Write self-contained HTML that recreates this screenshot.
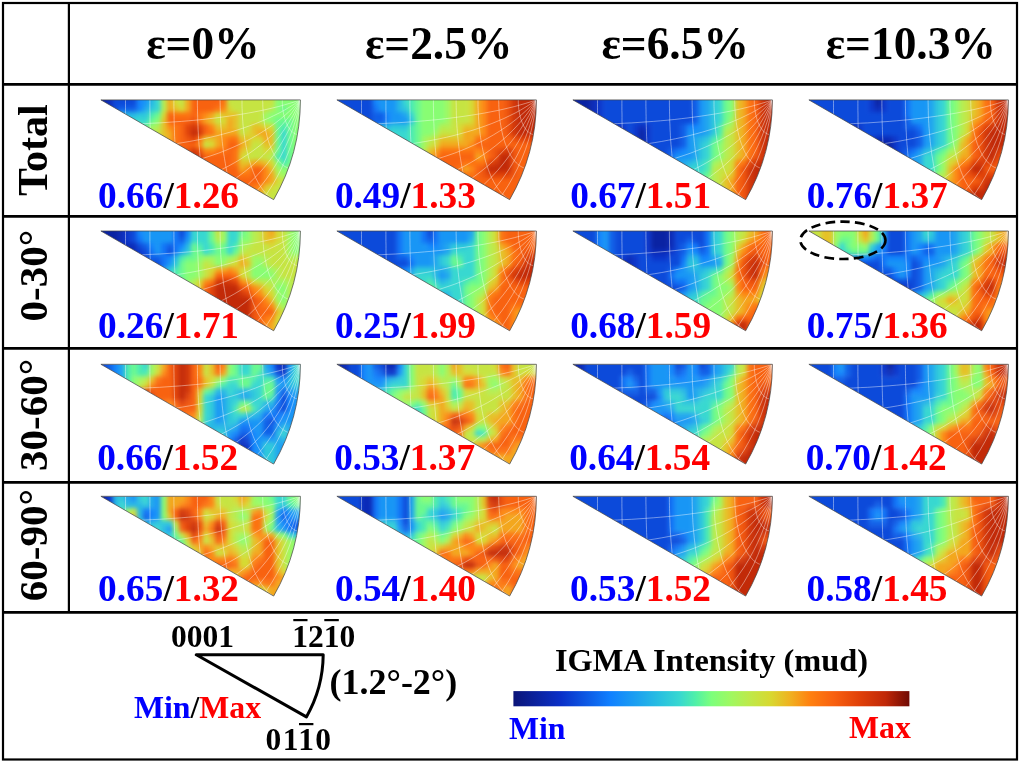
<!DOCTYPE html><html><head><meta charset="utf-8"><title>IGMA</title><style>html,body{margin:0;padding:0;background:#fff;}svg{display:block}text{font-family:"Liberation Serif","Times New Roman",serif;font-weight:bold}</style></head><body>
<svg width="1020" height="763" viewBox="0 0 1020 763">
<defs><filter id="bl" x="-10%" y="-10%" width="120%" height="120%" color-interpolation-filters="sRGB"><feGaussianBlur stdDeviation="2.2"/></filter>
<clipPath id="sec"><path d="M0.00 0.00L199.50 0.00A199.50 199.50 0 0 1 172.77 99.75Z"/></clipPath>
<path id="net" d="M196.5 34.6L196 34.6L195.6 34.4L195.1 34.3L194.7 34.1L194.3 34.0L193.9 33.8L193.4 33.5L193 33.3L192.6 33.0L192.2 32.7L191.8 32.4L191.4 32.1L191 31.7L190.6 31.4L190.2 31.0L189.9 30.6L189.5 30.2L189.2 29.7L188.8 29.3L188.5 28.8L188.1 28.3L187.8 27.8L187.5 27.2L187.2 26.7L186.8 26.1L186.5 25.6L186.2 25.0L186 24.4L185.7 23.7L185.4 23.1L185.2 22.5L184.9 21.8L184.7 21.1L184.4 20.5L184.2 19.8L184 19.1L183.8 18.4L183.6 17.6L183.4 16.9L183.2 16.1L183 15.4L182.8 14.6L182.7 13.9L182.5 13.1L182.4 12.3L182.3 11.5L182.1 10.7L182 9.9L181.9 9.1L181.8 8.3L181.7 7.5L181.6 6.7L181.6 5.8L181.5 5.0L181.5 4.2L181.4 3.3L181.4 2.5L181.4 1.7L181.4 0.8L181.4 0.0M187.5 68.2L186.6 67.9L185.8 67.5L185 67.1L184.2 66.7L183.4 66.2L182.6 65.7L181.9 65.1L181.1 64.5L180.4 63.8L179.7 63.2L179 62.5L178.3 61.7L177.6 60.9L176.9 60.1L176.3 59.3L175.6 58.4L175 57.5L174.4 56.6L173.8 55.6L173.2 54.6L172.7 53.6L172.1 52.5L171.6 51.5L171.1 50.4L170.6 49.2L170.1 48.1L169.6 46.9L169.1 45.7L168.7 44.5L168.2 43.3L167.8 42.0L167.4 40.8L167 39.5L166.6 38.2L166.3 36.8L165.9 35.5L165.6 34.1L165.3 32.8L165 31.4L164.7 30.0L164.4 28.5L164.1 27.1L163.9 25.7L163.6 24.2L163.4 22.8L163.2 21.3L163 19.8L162.8 18.3L162.7 16.8L162.5 15.3L162.4 13.8L162.3 12.3L162.2 10.8L162.1 9.2L162 7.7L161.9 6.2L161.9 4.6L161.9 3.1L161.8 1.5L161.8 0.0M172.8 99.7L171.7 99.1L170.6 98.3L169.5 97.5L168.4 96.7L167.4 95.8L166.4 94.9L165.4 93.9L164.4 92.9L163.5 91.8L162.6 90.7L161.7 89.5L160.8 88.3L159.9 87.0L159.1 85.8L158.3 84.4L157.5 83.1L156.7 81.7L156 80.2L155.2 78.8L154.5 77.3L153.8 75.7L153.2 74.2L152.5 72.6L151.9 70.9L151.3 69.3L150.7 67.6L150.1 65.9L149.6 64.2L149 62.4L148.5 60.6L148 58.8L147.5 57.0L147.1 55.1L146.6 53.3L146.2 51.4L145.8 49.5L145.4 47.5L145 45.6L144.7 43.6L144.3 41.7L144 39.7L143.7 37.7L143.4 35.6L143.1 33.6L142.9 31.6L142.7 29.5L142.4 27.5L142.2 25.4L142 23.3L141.9 21.2L141.7 19.1L141.6 17.0L141.5 14.9L141.4 12.8L141.3 10.6L141.2 8.5L141.1 6.4L141.1 4.3L141.1 2.1L141.1 0.0M152.8 128.2L151.6 127.1L150.3 126.0L149.1 124.7L147.9 123.5L146.8 122.1L145.7 120.7L144.6 119.3L143.5 117.8L142.5 116.3L141.5 114.7L140.5 113.1L139.6 111.4L138.7 109.7L137.8 107.9L136.9 106.1L136.1 104.3L135.3 102.4L134.5 100.5L133.7 98.6L132.9 96.6L132.2 94.6L131.5 92.6L130.9 90.5L130.2 88.4L129.6 86.3L129 84.1L128.4 81.9L127.8 79.7L127.2 77.4L126.7 75.2L126.2 72.9L125.7 70.6L125.3 68.3L124.8 65.9L124.4 63.5L124 61.1L123.6 58.7L123.2 56.3L122.8 53.9L122.5 51.4L122.2 48.9L121.9 46.4L121.6 43.9L121.3 41.4L121.1 38.9L120.8 36.3L120.6 33.8L120.4 31.2L120.2 28.6L120 26.1L119.9 23.5L119.7 20.9L119.6 18.3L119.5 15.7L119.4 13.1L119.4 10.5L119.3 7.9L119.3 5.2L119.2 2.6L119.2 0.0M128.2 152.8L127 151.3L125.7 149.6L124.5 148.0L123.4 146.2L122.3 144.5L121.2 142.6L120.1 140.8L119.1 138.8L118.1 136.9L117.1 134.9L116.2 132.8L115.3 130.7L114.4 128.6L113.6 126.4L112.8 124.2L112 121.9L111.2 119.6L110.5 117.3L109.7 114.9L109 112.5L108.4 110.1L107.7 107.7L107.1 105.2L106.5 102.7L105.9 100.1L105.3 97.6L104.8 95.0L104.3 92.3L103.8 89.7L103.3 87.0L102.8 84.3L102.4 81.6L101.9 78.9L101.5 76.1L101.1 73.4L100.8 70.6L100.4 67.8L100.1 64.9L99.7 62.1L99.4 59.2L99.1 56.4L98.9 53.5L98.6 50.6L98.4 47.7L98.1 44.8L97.9 41.8L97.7 38.9L97.5 35.9L97.4 33.0L97.2 30.0L97.1 27.0L97 24.0L96.8 21.0L96.8 18.0L96.7 15.0L96.6 12.0L96.6 9.0L96.5 6.0L96.5 3.0L96.5 0.0M99.8 172.8L98.6 170.8L97.6 168.8L96.5 166.7L95.5 164.5L94.5 162.4L93.6 160.1L92.7 157.9L91.8 155.6L91 153.2L90.2 150.8L89.4 148.4L88.6 145.9L87.9 143.4L87.1 140.9L86.4 138.3L85.8 135.7L85.1 133.1L84.5 130.4L83.9 127.7L83.3 125.0L82.8 122.2L82.2 119.4L81.7 116.6L81.2 113.8L80.7 110.9L80.3 108.0L79.8 105.1L79.4 102.2L79 99.2L78.6 96.2L78.2 93.2L77.8 90.2L77.5 87.1L77.1 84.1L76.8 81.0L76.5 77.9L76.2 74.8L75.9 71.6L75.7 68.5L75.4 65.3L75.2 62.1L74.9 58.9L74.7 55.7L74.5 52.5L74.3 49.3L74.2 46.0L74 42.8L73.9 39.5L73.7 36.3L73.6 33.0L73.5 29.7L73.4 26.4L73.3 23.1L73.2 19.8L73.2 16.5L73.1 13.2L73.1 9.9L73 6.6L73 3.3L73 0.0M68.2 187.5L67.4 185.1L66.6 182.8L65.8 180.4L65.1 177.9L64.4 175.4L63.7 172.9L63 170.3L62.4 167.7L61.8 165.1L61.2 162.4L60.6 159.7L60.1 157.0L59.5 154.2L59 151.4L58.5 148.5L58 145.7L57.6 142.8L57.1 139.8L56.7 136.9L56.3 133.9L55.9 130.9L55.5 127.9L55.1 124.8L54.8 121.7L54.4 118.6L54.1 115.5L53.8 112.3L53.5 109.2L53.2 106.0L52.9 102.7L52.6 99.5L52.4 96.3L52.1 93.0L51.9 89.7L51.6 86.4L51.4 83.1L51.2 79.7L51 76.4L50.8 73.0L50.7 69.6L50.5 66.2L50.3 62.8L50.2 59.4L50.1 55.9L49.9 52.5L49.8 49.0L49.7 45.6L49.6 42.1L49.5 38.6L49.4 35.1L49.3 31.6L49.3 28.1L49.2 24.6L49.1 21.1L49.1 17.6L49.1 14.1L49 10.6L49 7.0L49 3.5L49 0.0M34.6 196.5L34.2 193.9L33.8 191.3L33.4 188.7L33 186.1L32.6 183.4L32.2 180.6L31.9 177.9L31.6 175.1L31.2 172.3L30.9 169.4L30.6 166.5L30.3 163.6L30.1 160.7L29.8 157.7L29.5 154.7L29.3 151.7L29 148.6L28.8 145.5L28.6 142.4L28.4 139.3L28.1 136.1L27.9 132.9L27.8 129.7L27.6 126.5L27.4 123.2L27.2 120.0L27.1 116.7L26.9 113.4L26.7 110.0L26.6 106.7L26.5 103.3L26.3 99.9L26.2 96.5L26.1 93.1L26 89.6L25.8 86.2L25.7 82.7L25.6 79.2L25.5 75.7L25.5 72.2L25.4 68.6L25.3 65.1L25.2 61.5L25.1 58.0L25.1 54.4L25 50.8L24.9 47.2L24.9 43.6L24.8 40.0L24.8 36.4L24.8 32.8L24.7 29.2L24.7 25.5L24.7 21.9L24.6 18.2L24.6 14.6L24.6 10.9L24.6 7.3L24.6 3.7L24.6 0.0M199.5 0.0L198.3 10.2L196.6 20.4L194.4 30.3L191.7 40.1L188.5 49.7L184.8 59.1L180.7 68.3L176.1 77.2L171.1 85.9L165.7 94.2L159.9 102.3L153.7 110.0L147.2 117.4L140.3 124.4L133.1 131.1L125.6 137.4L117.8 143.3L109.8 148.8L101.5 153.9L93 158.6L84.3 162.9L75.4 166.7L66.3 170.1L57.1 173.1L47.8 175.6L38.3 177.7L28.8 179.3L19.3 180.4L9.6 181.1L0 181.4L-9.6 181.1L-19.3 180.4L-28.8 179.3L-38.3 177.7L-47.8 175.6L-57.1 173.1L-66.3 170.1L-75.4 166.7L-84.3 162.9L-93 158.6L-101.5 153.9L-109.8 148.8L-117.8 143.3L-125.6 137.4L-133.1 131.1L-140.3 124.4L-147.2 117.4L-153.7 110.0L-159.9 102.3L-165.7 94.2L-171.1 85.9L-176.1 77.2L-180.7 68.3L-184.8 59.1L-188.5 49.7L-191.7 40.1L-194.4 30.3L-196.6 20.4L-198.3 10.2L-199.5 0.0M199.5 0.0L197.5 9.7L195 19.3L192 28.6L188.6 37.7L184.7 46.5L180.4 55.1L175.8 63.4L170.8 71.4L165.4 79.2L159.7 86.6L153.6 93.7L147.3 100.5L140.6 107.0L133.7 113.2L126.6 119.0L119.2 124.4L111.6 129.5L103.8 134.2L95.8 138.6L87.6 142.6L79.3 146.2L70.8 149.5L62.2 152.4L53.6 154.9L44.8 157.0L35.9 158.7L27 160.1L18 161.1L9 161.6L0 161.8L-9 161.6L-18 161.1L-27 160.1L-35.9 158.7L-44.8 157.0L-53.6 154.9L-62.2 152.4L-70.8 149.5L-79.3 146.2L-87.6 142.6L-95.8 138.6L-103.8 134.2L-111.6 129.5L-119.2 124.4L-126.6 119.0L-133.7 113.2L-140.6 107.0L-147.3 100.5L-153.6 93.7L-159.7 86.6L-165.4 79.2L-170.8 71.4L-175.8 63.4L-180.4 55.1L-184.7 46.5L-188.6 37.7L-192 28.6L-195 19.3L-197.5 9.7L-199.5 0.0M199.5 0.0L196.7 8.9L193.4 17.6L189.8 26.0L185.7 34.2L181.3 42.1L176.6 49.7L171.5 57.0L166.1 64.1L160.5 70.8L154.5 77.3L148.3 83.4L141.9 89.3L135.2 94.8L128.3 100.1L121.3 105.0L114 109.6L106.5 113.9L98.9 117.9L91.2 121.6L83.3 125.0L75.3 128.0L67.2 130.8L59 133.2L50.8 135.3L42.4 137.0L34 138.5L25.5 139.6L17 140.4L8.5 140.9L0 141.1L-8.5 140.9L-17 140.4L-25.5 139.6L-34 138.5L-42.4 137.0L-50.8 135.3L-59 133.2L-67.2 130.8L-75.3 128.0L-83.3 125.0L-91.2 121.6L-98.9 117.9L-106.5 113.9L-114 109.6L-121.3 105.0L-128.3 100.1L-135.2 94.8L-141.9 89.3L-148.3 83.4L-154.5 77.3L-160.5 70.8L-166.1 64.1L-171.5 57.0L-176.6 49.7L-181.3 42.1L-185.7 34.2L-189.8 26.0L-193.4 17.6L-196.7 8.9L-199.5 0.0M199.5 0.0L196 7.9L192.1 15.5L187.8 22.8L183.3 29.8L178.4 36.6L173.3 43.1L167.9 49.4L162.3 55.3L156.4 61.0L150.3 66.5L144 71.6L137.5 76.5L130.8 81.2L124 85.5L117 89.6L109.8 93.4L102.5 97.0L95.1 100.3L87.6 103.3L79.9 106.1L72.2 108.6L64.4 110.8L56.5 112.8L48.6 114.5L40.6 115.9L32.5 117.1L24.4 118.1L16.3 118.7L8.1 119.1L0 119.2L-8.1 119.1L-16.3 118.7L-24.4 118.1L-32.5 117.1L-40.6 115.9L-48.6 114.5L-56.5 112.8L-64.4 110.8L-72.2 108.6L-79.9 106.1L-87.6 103.3L-95.1 100.3L-102.5 97.0L-109.8 93.4L-117 89.6L-124 85.5L-130.8 81.2L-137.5 76.5L-144 71.6L-150.3 66.5L-156.4 61.0L-162.3 55.3L-167.9 49.4L-173.3 43.1L-178.4 36.6L-183.3 29.8L-187.8 22.8L-192.1 15.5L-196 7.9L-199.5 0.0M199.5 0.0L195.3 6.6L190.9 12.9L186.2 19.0L181.2 24.8L176 30.3L170.6 35.6L165 40.7L159.1 45.5L153.1 50.1L146.9 54.5L140.5 58.7L134 62.6L127.4 66.3L120.5 69.8L113.6 73.0L106.6 76.1L99.4 78.9L92.1 81.5L84.8 83.9L77.3 86.1L69.8 88.1L62.2 89.9L54.6 91.4L46.9 92.8L39.1 93.9L31.4 94.8L23.5 95.6L15.7 96.1L7.9 96.4L0 96.5L-7.9 96.4L-15.7 96.1L-23.5 95.6L-31.4 94.8L-39.1 93.9L-46.9 92.8L-54.6 91.4L-62.2 89.9L-69.8 88.1L-77.3 86.1L-84.8 83.9L-92.1 81.5L-99.4 78.9L-106.6 76.1L-113.6 73.0L-120.5 69.8L-127.4 66.3L-134 62.6L-140.5 58.7L-146.9 54.5L-153.1 50.1L-159.1 45.5L-165 40.7L-170.6 35.6L-176 30.3L-181.2 24.8L-186.2 19.0L-190.9 12.9L-195.3 6.6L-199.5 0.0M199.5 0.0L194.9 5.1L190 10.0L184.9 14.6L179.6 19.1L174.2 23.3L168.5 27.4L162.7 31.2L156.7 34.9L150.6 38.4L144.3 41.7L137.9 44.8L131.4 47.7L124.7 50.5L118 53.1L111.1 55.5L104.1 57.8L97.1 59.9L89.9 61.9L82.7 63.7L75.4 65.3L68 66.8L60.6 68.1L53.2 69.2L45.7 70.3L38.1 71.1L30.5 71.8L22.9 72.3L15.3 72.7L7.6 72.9L0 73.0L-7.6 72.9L-15.3 72.7L-22.9 72.3L-30.5 71.8L-38.1 71.1L-45.7 70.3L-53.2 69.2L-60.6 68.1L-68 66.8L-75.4 65.3L-82.7 63.7L-89.9 61.9L-97.1 59.9L-104.1 57.8L-111.1 55.5L-118 53.1L-124.7 50.5L-131.4 47.7L-137.9 44.8L-144.3 41.7L-150.6 38.4L-156.7 34.9L-162.7 31.2L-168.5 27.4L-174.2 23.3L-179.6 19.1L-184.9 14.6L-190 10.0L-194.9 5.1L-199.5 0.0M199.5 0.0L194.5 3.5L189.3 6.8L184 10.0L178.5 13.0L172.8 15.8L167 18.6L161.1 21.1L155 23.6L148.8 25.9L142.5 28.1L136.1 30.2L129.5 32.2L122.9 34.0L116.2 35.8L109.3 37.4L102.4 38.9L95.4 40.3L88.4 41.6L81.3 42.8L74.1 43.9L66.8 44.9L59.5 45.7L52.2 46.5L44.8 47.2L37.4 47.7L29.9 48.2L22.5 48.5L15 48.8L7.5 48.9L0 49.0L-7.5 48.9L-15 48.8L-22.5 48.5L-29.9 48.2L-37.4 47.7L-44.8 47.2L-52.2 46.5L-59.5 45.7L-66.8 44.9L-74.1 43.9L-81.3 42.8L-88.4 41.6L-95.4 40.3L-102.4 38.9L-109.3 37.4L-116.2 35.8L-122.9 34.0L-129.5 32.2L-136.1 30.2L-142.5 28.1L-148.8 25.9L-155 23.6L-161.1 21.1L-167 18.6L-172.8 15.8L-178.5 13.0L-184 10.0L-189.3 6.8L-194.5 3.5L-199.5 0.0M199.5 0.0L194.3 1.8L188.9 3.4L183.4 5.0L177.8 6.6L172 8.0L166.1 9.4L160.1 10.7L154 11.9L147.8 13.1L141.4 14.2L135 15.2L128.4 16.2L121.8 17.1L115.1 18.0L108.3 18.8L101.4 19.6L94.5 20.3L87.5 20.9L80.4 21.5L73.3 22.0L66.1 22.5L58.9 23.0L51.6 23.3L44.3 23.7L37 24.0L29.6 24.2L22.2 24.4L14.8 24.5L7.4 24.6L0 24.6L-7.4 24.6L-14.8 24.5L-22.2 24.4L-29.6 24.2L-37 24.0L-44.3 23.7L-51.6 23.3L-58.9 23.0L-66.1 22.5L-73.3 22.0L-80.4 21.5L-87.5 20.9L-94.5 20.3L-101.4 19.6L-108.3 18.8L-115.1 18.0L-121.8 17.1L-128.4 16.2L-135 15.2L-141.4 14.2L-147.8 13.1L-154 11.9L-160.1 10.7L-166.1 9.4L-172 8.0L-177.8 6.6L-183.4 5.0L-188.9 3.4L-194.3 1.8L-199.5 0.0" fill="none" stroke="#fff" stroke-opacity="0.42" stroke-width="1"/>
<path id="out" d="M0.00 0.00L199.50 0.00A199.50 199.50 0 0 1 172.77 99.75Z" fill="none" stroke="#444" stroke-width="0.9" stroke-opacity="0.8"/>
</defs>
<rect width="1020" height="763" fill="#fff"/>
<g transform="translate(100.9 99.9)"><g clip-path="url(#sec)"><g filter="url(#bl)">
<path fill="#0a23a3" d="M-6 -6h12v6h-12zM-6 0h12v6h-12zM-6 6h12v6h-12z"/>
<path fill="#0a2bb9" d="M6 -6h6v6h-6zM6 0h6v6h-6zM6 6h6v6h-6z"/>
<path fill="#0c4ada" d="M12 -6h24v6h-24zM12 0h24v6h-24zM12 6h6v6h-6z"/>
<path fill="#1286fc" d="M36 -6h6v6h-6zM36 0h6v6h-6zM36 6h6v6h-6z"/>
<path fill="#1896f5" d="M42 -6h6v6h-6zM42 0h6v6h-6zM12 12h6v6h-6z"/>
<path fill="#25b8e4" d="M48 -6h6v6h-6zM48 0h6v6h-6zM18 12h18v6h-18zM12 18h6v6h-6z"/>
<path fill="#38d8d0" d="M54 -6h6v6h-6zM54 0h6v6h-6zM54 6h6v6h-6zM18 18h30v6h-30zM24 24h12v6h-12zM180 30h6v6h-6zM180 36h6v6h-6zM180 42h6v6h-6zM180 48h6v6h-6zM180 54h6v6h-6z"/>
<path fill="#b4ee51" d="M60 -6h6v6h-6zM60 0h6v6h-6zM60 6h6v6h-6zM168 6h6v6h-6zM54 24h6v6h-6zM48 30h6v6h-6zM48 36h6v6h-6zM168 54h6v6h-6zM174 72h6v6h-6z"/>
<path fill="#f3a71d" d="M66 -6h6v6h-6zM84 -6h6v6h-6zM66 0h6v6h-6zM84 0h6v6h-6zM66 6h6v6h-6zM84 6h6v6h-6zM108 12h6v6h-6zM102 18h6v6h-6zM126 18h6v6h-6zM126 24h6v6h-6zM66 30h6v6h-6zM114 30h24v6h-24zM156 30h12v6h-12zM66 36h6v6h-6zM114 36h6v6h-6zM162 36h6v6h-6zM66 42h6v6h-6zM114 42h6v6h-6zM138 42h6v6h-6zM66 48h6v6h-6zM150 60h12v6h-12zM138 66h6v6h-6zM168 72h6v6h-6zM168 78h6v6h-6zM156 90h6v6h-6zM156 96h6v6h-6z"/>
<path fill="#d6da32" d="M72 -6h6v6h-6zM72 0h6v6h-6zM78 6h6v6h-6zM126 6h6v6h-6zM60 12h6v6h-6zM114 12h6v6h-6zM120 18h6v6h-6zM162 24h12v6h-12zM144 30h6v6h-6zM150 36h12v6h-12zM108 42h6v6h-6zM144 48h6v6h-6zM162 48h6v6h-6zM138 54h6v6h-6zM168 60h6v6h-6zM174 78h6v6h-6zM168 84h6v6h-6zM162 90h6v6h-6zM162 96h6v6h-6zM162 102h6v6h-6z"/>
<path fill="#c6e442" d="M78 -6h6v6h-6zM126 -6h48v6h-48zM78 0h6v6h-6zM126 0h48v6h-48zM132 6h36v6h-36zM138 12h24v6h-24zM114 18h6v6h-6zM138 18h24v6h-24zM138 24h12v6h-12zM54 30h6v6h-6zM138 30h6v6h-6zM54 36h6v6h-6zM54 42h6v6h-6zM102 42h6v6h-6zM150 42h12v6h-12zM150 48h12v6h-12zM168 48h6v6h-6zM144 54h24v6h-24zM180 78h12v6h-12zM174 84h18v6h-18zM168 90h18v6h-18zM168 96h18v6h-18zM168 102h12v6h-12z"/>
<path fill="#f86210" d="M90 -6h30v6h-30zM90 0h30v6h-30zM90 6h24v6h-24zM66 12h6v6h-6zM90 12h6v6h-6zM66 18h24v6h-24zM78 24h6v6h-6zM102 24h6v6h-6zM78 30h6v6h-6zM102 30h6v6h-6zM78 36h6v6h-6zM78 42h18v6h-18zM126 42h12v6h-12zM78 48h6v6h-6zM126 48h6v6h-6zM78 54h6v6h-6zM102 54h30v6h-30zM102 60h30v6h-30zM102 66h36v6h-36zM150 66h12v6h-12zM108 72h30v6h-30zM150 72h12v6h-12zM120 78h42v6h-42zM126 84h24v6h-24zM138 90h12v6h-12z"/>
<path fill="#fc7310" d="M120 -6h6v6h-6zM120 0h6v6h-6zM114 6h6v6h-6zM72 12h18v6h-18zM96 12h6v6h-6zM96 18h6v6h-6zM72 24h6v6h-6zM72 30h6v6h-6zM108 30h6v6h-6zM72 36h6v6h-6zM96 36h6v6h-6zM126 36h12v6h-12zM72 42h6v6h-6zM72 48h6v6h-6zM114 48h12v6h-12zM132 48h6v6h-6zM132 54h6v6h-6zM132 60h6v6h-6zM138 72h12v6h-12zM150 84h6v6h-6z"/>
<path fill="#88fd73" d="M174 -6h36v6h-36zM174 0h36v6h-36zM174 6h6v6h-6zM186 6h24v6h-24zM168 12h42v6h-42zM54 18h6v6h-6zM168 18h6v6h-6zM192 18h18v6h-18zM192 24h18v6h-18zM42 30h6v6h-6zM192 30h18v6h-18zM192 36h12v6h-12zM192 42h12v6h-12zM192 48h12v6h-12zM192 54h12v6h-12zM174 60h6v6h-6zM192 60h6v6h-6zM180 66h18v6h-18z"/>
<path fill="#0e5fe8" d="M18 6h18v6h-18z"/>
<path fill="#1fa7ed" d="M42 6h6v6h-6z"/>
<path fill="#2dc8db" d="M48 6h6v6h-6zM36 12h12v6h-12z"/>
<path fill="#e5c227" d="M72 6h6v6h-6zM120 12h18v6h-18zM60 18h6v6h-6zM108 18h6v6h-6zM132 18h6v6h-6zM60 24h6v6h-6zM114 24h12v6h-12zM132 24h6v6h-6zM150 24h12v6h-12zM60 30h6v6h-6zM150 30h6v6h-6zM168 30h6v6h-6zM60 36h6v6h-6zM102 36h12v6h-12zM138 36h12v6h-12zM168 36h6v6h-6zM60 42h6v6h-6zM144 42h6v6h-6zM162 42h12v6h-12zM138 48h6v6h-6zM138 60h12v6h-12zM162 60h6v6h-6zM168 66h6v6h-6zM162 84h6v6h-6z"/>
<path fill="#fd8813" d="M120 6h6v6h-6zM102 12h6v6h-6zM66 24h6v6h-6zM108 24h6v6h-6zM120 36h6v6h-6zM96 42h6v6h-6zM120 42h6v6h-6zM102 48h12v6h-12zM144 66h6v6h-6zM162 66h6v6h-6zM162 72h6v6h-6zM162 78h6v6h-6zM156 84h6v6h-6zM150 90h6v6h-6zM150 96h6v6h-6z"/>
<path fill="#6af98e" d="M180 6h6v6h-6zM54 12h6v6h-6zM48 18h6v6h-6zM174 18h18v6h-18zM42 24h6v6h-6zM174 24h6v6h-6zM186 24h6v6h-6zM36 30h6v6h-6zM174 30h6v6h-6zM186 30h6v6h-6zM174 36h6v6h-6zM186 36h6v6h-6zM174 42h6v6h-6zM186 42h6v6h-6zM174 48h6v6h-6zM186 48h6v6h-6zM186 54h6v6h-6zM186 60h6v6h-6z"/>
<path fill="#0a36cc" d="M6 12h6v6h-6z"/>
<path fill="#4bebb0" d="M48 12h6v6h-6zM36 24h6v6h-6zM180 24h6v6h-6zM174 54h6v6h-6zM180 60h6v6h-6z"/>
<path fill="#9ff861" d="M162 12h6v6h-6zM162 18h6v6h-6zM48 24h6v6h-6zM174 66h6v6h-6zM180 72h18v6h-18z"/>
<path fill="#ed520c" d="M90 18h6v6h-6zM84 36h6v6h-6zM84 48h6v6h-6zM96 48h6v6h-6z"/>
<path fill="#e14208" d="M84 24h6v6h-6zM96 24h6v6h-6zM84 30h6v6h-6zM90 36h6v6h-6zM84 54h6v6h-6z"/>
<path fill="#d23608" d="M90 24h6v6h-6zM96 30h6v6h-6zM90 48h6v6h-6zM96 54h6v6h-6zM96 60h6v6h-6zM96 66h6v6h-6z"/>
<path fill="#c22a08" d="M90 30h6v6h-6zM90 54h6v6h-6zM90 60h6v6h-6z"/>
</g><use href="#net"/></g><use href="#out"/></g>
<g transform="translate(336.9 99.9)"><g clip-path="url(#sec)"><g filter="url(#bl)">
<path fill="#0c4ada" d="M-6 -6h42v6h-42zM-6 0h42v6h-42zM-6 6h42v6h-42zM6 12h30v6h-30zM12 18h24v6h-24zM24 24h12v6h-12z"/>
<path fill="#1286fc" d="M36 -6h6v6h-6zM36 0h6v6h-6zM48 12h6v6h-6zM48 18h6v6h-6z"/>
<path fill="#1896f5" d="M42 -6h18v6h-18zM42 0h18v6h-18zM42 6h18v6h-18zM54 12h12v6h-12zM54 18h18v6h-18zM36 24h6v6h-6z"/>
<path fill="#25b8e4" d="M60 -6h6v6h-6zM60 0h6v6h-6zM60 6h6v6h-6zM42 24h12v6h-12z"/>
<path fill="#38d8d0" d="M66 -6h6v6h-6zM66 0h6v6h-6zM72 12h6v6h-6zM42 30h30v6h-30zM48 36h24v6h-24zM54 42h18v6h-18zM66 48h6v6h-6z"/>
<path fill="#4bebb0" d="M72 -6h6v6h-6zM72 0h6v6h-6zM72 6h6v6h-6zM72 24h6v6h-6zM72 30h6v6h-6zM72 36h6v6h-6zM72 42h6v6h-6zM72 48h6v6h-6z"/>
<path fill="#6af98e" d="M78 -6h6v6h-6zM78 0h6v6h-6zM78 6h6v6h-6zM78 12h6v6h-6zM78 18h6v6h-6zM78 24h6v6h-6zM78 30h6v6h-6zM78 36h6v6h-6zM78 42h6v6h-6zM78 48h6v6h-6z"/>
<path fill="#88fd73" d="M84 -6h24v6h-24zM84 0h24v6h-24zM84 6h24v6h-24zM84 12h24v6h-24zM84 18h24v6h-24zM84 24h18v6h-18zM84 30h12v6h-12zM78 54h6v6h-6z"/>
<path fill="#9ff861" d="M108 -6h6v6h-6zM108 0h6v6h-6zM108 6h6v6h-6zM108 12h6v6h-6zM108 18h6v6h-6zM96 30h6v6h-6zM84 36h6v6h-6zM84 42h6v6h-6z"/>
<path fill="#c6e442" d="M114 -6h18v6h-18zM114 0h18v6h-18zM114 6h18v6h-18zM114 12h18v6h-18zM114 18h18v6h-18zM114 24h6v6h-6zM102 30h18v6h-18zM96 36h6v6h-6zM90 42h6v6h-6z"/>
<path fill="#d6da32" d="M132 -6h6v6h-6zM132 0h6v6h-6zM132 6h6v6h-6zM132 12h6v6h-6zM132 18h6v6h-6zM120 24h6v6h-6zM120 30h6v6h-6zM96 42h6v6h-6z"/>
<path fill="#f3a71d" d="M138 -6h6v6h-6zM138 0h6v6h-6zM138 6h6v6h-6zM138 12h6v6h-6zM138 18h6v6h-6zM138 24h6v6h-6zM126 30h18v6h-18zM126 36h12v6h-12zM102 42h30v6h-30zM96 48h6v6h-6zM90 54h6v6h-6zM138 54h6v6h-6zM90 60h6v6h-6zM126 66h6v6h-6z"/>
<path fill="#fd8813" d="M144 -6h6v6h-6zM144 0h6v6h-6zM144 6h6v6h-6zM144 12h6v6h-6zM144 18h6v6h-6zM144 24h6v6h-6zM144 30h6v6h-6zM132 42h6v6h-6zM138 48h6v6h-6zM96 54h6v6h-6zM144 54h6v6h-6zM96 60h6v6h-6zM96 66h6v6h-6zM132 66h6v6h-6z"/>
<path fill="#f86210" d="M150 -6h18v6h-18zM150 0h18v6h-18zM150 6h18v6h-18zM150 12h18v6h-18zM150 18h18v6h-18zM150 24h18v6h-18zM150 30h18v6h-18zM150 36h24v6h-24zM138 42h66v6h-66zM150 48h6v6h-6zM180 48h24v6h-24zM102 54h36v6h-36zM150 54h6v6h-6zM180 54h24v6h-24zM102 60h24v6h-24zM180 60h18v6h-18zM102 66h18v6h-18zM138 66h6v6h-6zM180 66h18v6h-18zM108 72h18v6h-18zM138 72h6v6h-6zM180 72h18v6h-18zM120 78h72v6h-72zM126 84h66v6h-66zM138 90h48v6h-48zM150 96h36v6h-36zM162 102h18v6h-18z"/>
<path fill="#ed520c" d="M168 -6h6v6h-6zM168 0h6v6h-6zM168 6h6v6h-6zM168 12h6v6h-6zM168 18h6v6h-6zM168 24h6v6h-6zM168 30h6v6h-6zM174 36h6v6h-6zM156 48h6v6h-6zM174 48h6v6h-6zM156 54h6v6h-6zM174 54h6v6h-6zM174 60h6v6h-6zM144 66h6v6h-6zM174 66h6v6h-6zM144 72h6v6h-6zM174 72h6v6h-6z"/>
<path fill="#d23608" d="M174 -6h6v6h-6zM174 0h6v6h-6zM174 6h6v6h-6zM174 12h6v6h-6zM174 18h6v6h-6zM174 24h6v6h-6zM174 30h6v6h-6zM168 48h6v6h-6zM156 60h6v6h-6z"/>
<path fill="#c22a08" d="M180 -6h30v6h-30zM180 0h30v6h-30zM180 6h30v6h-30zM180 12h30v6h-30zM180 18h30v6h-30zM180 24h30v6h-30zM180 30h30v6h-30zM162 54h12v6h-12zM162 60h12v6h-12zM150 66h24v6h-24z"/>
<path fill="#0f74f7" d="M36 6h6v6h-6z"/>
<path fill="#2dc8db" d="M66 6h6v6h-6zM72 18h6v6h-6zM54 24h18v6h-18z"/>
<path fill="#0e5fe8" d="M36 12h12v6h-12zM36 18h12v6h-12z"/>
<path fill="#1fa7ed" d="M66 12h6v6h-6zM36 30h6v6h-6z"/>
<path fill="#b4ee51" d="M102 24h12v6h-12zM90 36h6v6h-6zM84 48h6v6h-6zM84 54h6v6h-6z"/>
<path fill="#e5c227" d="M126 24h12v6h-12zM102 36h24v6h-24zM90 48h6v6h-6z"/>
<path fill="#fc7310" d="M138 36h12v6h-12zM102 48h36v6h-36zM144 48h6v6h-6zM126 60h24v6h-24zM120 66h6v6h-6zM126 72h12v6h-12z"/>
<path fill="#e14208" d="M180 36h24v6h-24zM162 48h6v6h-6zM150 60h6v6h-6zM150 72h24v6h-24z"/>
</g><use href="#net"/></g><use href="#out"/></g>
<g transform="translate(572.9 99.9)"><g clip-path="url(#sec)"><g filter="url(#bl)">
<path fill="#0a23a3" d="M-6 -6h24v6h-24zM-6 0h24v6h-24zM-6 6h24v6h-24zM6 12h12v6h-12zM66 30h6v6h-6zM66 36h6v6h-6zM66 42h6v6h-6zM66 48h6v6h-6z"/>
<path fill="#0a2bb9" d="M18 -6h6v6h-6zM18 0h6v6h-6zM18 6h6v6h-6zM18 12h6v6h-6zM12 18h12v6h-12zM42 24h6v6h-6zM66 24h6v6h-6zM36 30h12v6h-12z"/>
<path fill="#0a36cc" d="M24 -6h6v6h-6zM24 0h6v6h-6zM24 6h6v6h-6zM24 12h6v6h-6zM24 18h6v6h-6zM36 24h6v6h-6zM48 24h6v6h-6zM60 24h6v6h-6zM72 24h6v6h-6zM48 30h6v6h-6zM60 30h6v6h-6zM72 30h6v6h-6zM48 36h6v6h-6zM60 36h6v6h-6zM72 36h6v6h-6zM60 42h6v6h-6zM72 42h6v6h-6zM72 48h6v6h-6z"/>
<path fill="#0c4ada" d="M30 -6h90v6h-90zM30 0h90v6h-90zM30 6h90v6h-90zM30 12h90v6h-90zM30 18h90v6h-90zM24 24h12v6h-12zM54 24h6v6h-6zM78 24h30v6h-30zM54 30h6v6h-6zM78 30h30v6h-30zM54 36h6v6h-6zM78 36h30v6h-30zM54 42h6v6h-6zM78 42h30v6h-30zM78 48h18v6h-18zM78 54h18v6h-18zM90 60h6v6h-6z"/>
<path fill="#0e5fe8" d="M120 -6h6v6h-6zM120 0h6v6h-6zM120 6h6v6h-6zM120 12h6v6h-6zM120 18h6v6h-6zM108 24h6v6h-6zM108 30h6v6h-6zM108 36h6v6h-6zM108 42h6v6h-6zM96 48h6v6h-6z"/>
<path fill="#1896f5" d="M126 -6h6v6h-6zM126 0h6v6h-6zM126 6h6v6h-6zM126 12h6v6h-6zM126 18h6v6h-6zM126 24h6v6h-6zM114 30h18v6h-18zM114 36h6v6h-6zM114 42h6v6h-6zM114 48h6v6h-6zM102 54h18v6h-18zM102 60h6v6h-6zM102 66h6v6h-6z"/>
<path fill="#1fa7ed" d="M132 -6h6v6h-6zM132 0h6v6h-6zM132 6h6v6h-6zM132 12h6v6h-6zM132 18h6v6h-6zM132 24h6v6h-6zM132 30h6v6h-6zM120 36h6v6h-6zM120 42h6v6h-6zM120 48h6v6h-6zM120 54h6v6h-6zM108 60h6v6h-6zM108 66h6v6h-6zM108 72h6v6h-6z"/>
<path fill="#2dc8db" d="M138 -6h6v6h-6zM138 0h6v6h-6zM138 6h6v6h-6zM138 12h6v6h-6zM138 18h6v6h-6zM138 24h6v6h-6zM138 30h6v6h-6zM132 36h6v6h-6zM126 42h6v6h-6zM126 48h6v6h-6zM126 54h6v6h-6zM120 60h6v6h-6z"/>
<path fill="#38d8d0" d="M144 -6h6v6h-6zM144 0h6v6h-6zM144 6h6v6h-6zM144 12h6v6h-6zM144 18h6v6h-6zM132 42h6v6h-6zM132 48h6v6h-6zM132 54h6v6h-6zM126 60h6v6h-6zM114 66h18v6h-18zM114 72h12v6h-12zM120 78h6v6h-6z"/>
<path fill="#6af98e" d="M150 -6h6v6h-6zM150 0h6v6h-6zM150 6h6v6h-6zM150 12h6v6h-6zM150 18h6v6h-6zM144 36h6v6h-6zM138 42h6v6h-6zM138 48h6v6h-6zM138 54h6v6h-6zM132 72h6v6h-6zM126 78h6v6h-6zM126 84h6v6h-6z"/>
<path fill="#88fd73" d="M156 -6h6v6h-6zM156 0h6v6h-6zM156 6h6v6h-6zM156 12h6v6h-6zM144 42h6v6h-6zM144 48h6v6h-6zM144 54h6v6h-6zM132 78h6v6h-6zM132 84h6v6h-6z"/>
<path fill="#e5c227" d="M162 -6h6v6h-6zM162 0h6v6h-6zM162 6h6v6h-6zM162 12h6v6h-6zM162 18h6v6h-6zM162 24h6v6h-6zM162 30h6v6h-6zM162 36h6v6h-6zM162 42h6v6h-6zM162 48h6v6h-6zM162 54h6v6h-6zM156 72h6v6h-6zM150 78h6v6h-6zM150 84h6v6h-6zM150 90h6v6h-6zM150 96h6v6h-6z"/>
<path fill="#f3a71d" d="M168 -6h6v6h-6zM168 0h6v6h-6zM168 6h6v6h-6zM168 12h6v6h-6zM168 18h6v6h-6zM168 24h6v6h-6zM168 30h6v6h-6zM168 36h6v6h-6zM168 42h6v6h-6zM168 48h6v6h-6zM168 54h6v6h-6zM156 78h6v6h-6zM156 84h6v6h-6zM156 90h6v6h-6zM156 96h6v6h-6z"/>
<path fill="#fc7310" d="M174 -6h6v6h-6zM174 0h6v6h-6zM174 6h6v6h-6zM174 12h6v6h-6zM174 18h6v6h-6zM174 24h6v6h-6zM174 30h6v6h-6zM174 36h6v6h-6zM174 42h6v6h-6zM174 48h6v6h-6zM174 54h6v6h-6zM168 60h6v6h-6zM162 66h6v6h-6zM162 72h6v6h-6z"/>
<path fill="#f86210" d="M180 -6h6v6h-6zM180 0h6v6h-6zM180 6h6v6h-6zM180 12h6v6h-6zM180 18h6v6h-6zM180 24h6v6h-6zM180 30h6v6h-6zM180 36h6v6h-6zM180 42h6v6h-6zM180 48h6v6h-6zM162 78h6v6h-6zM162 84h6v6h-6zM162 90h6v6h-6zM162 96h6v6h-6zM162 102h6v6h-6z"/>
<path fill="#d23608" d="M186 -6h6v6h-6zM186 0h6v6h-6zM186 6h6v6h-6zM186 12h6v6h-6zM186 18h6v6h-6zM186 24h6v6h-6zM186 30h6v6h-6zM186 36h6v6h-6zM186 42h6v6h-6zM186 48h6v6h-6zM186 54h6v6h-6zM180 60h6v6h-6zM174 66h6v6h-6zM174 72h6v6h-6zM174 78h6v6h-6zM174 84h6v6h-6zM174 90h6v6h-6zM174 96h6v6h-6zM174 102h6v6h-6z"/>
<path fill="#c22a08" d="M192 -6h18v6h-18zM192 0h18v6h-18zM192 6h18v6h-18zM192 12h18v6h-18zM192 18h18v6h-18zM192 24h18v6h-18zM192 30h18v6h-18zM192 36h12v6h-12zM192 42h12v6h-12zM192 48h12v6h-12zM192 54h12v6h-12zM186 60h12v6h-12zM180 66h18v6h-18zM180 72h18v6h-18zM180 78h12v6h-12zM180 84h12v6h-12zM180 90h6v6h-6zM180 96h6v6h-6z"/>
<path fill="#9ff861" d="M156 18h6v6h-6zM150 24h6v6h-6zM138 60h6v6h-6z"/>
<path fill="#1286fc" d="M114 24h12v6h-12zM108 48h6v6h-6z"/>
<path fill="#4bebb0" d="M144 24h6v6h-6zM144 30h6v6h-6zM138 36h6v6h-6zM132 60h6v6h-6zM132 66h6v6h-6zM126 72h6v6h-6z"/>
<path fill="#b4ee51" d="M156 24h6v6h-6zM150 30h6v6h-6zM150 36h6v6h-6zM150 42h6v6h-6zM150 48h6v6h-6zM150 54h6v6h-6zM144 60h6v6h-6zM138 66h6v6h-6zM138 72h6v6h-6zM138 78h6v6h-6zM138 84h6v6h-6zM138 90h6v6h-6z"/>
<path fill="#c6e442" d="M156 30h6v6h-6zM156 36h6v6h-6zM156 42h6v6h-6zM156 48h6v6h-6zM156 54h6v6h-6zM150 60h6v6h-6zM144 66h12v6h-12zM144 72h6v6h-6zM144 78h6v6h-6zM144 84h6v6h-6zM144 90h6v6h-6z"/>
<path fill="#25b8e4" d="M126 36h6v6h-6zM114 60h6v6h-6z"/>
<path fill="#0f74f7" d="M102 48h6v6h-6zM96 54h6v6h-6zM96 60h6v6h-6zM96 66h6v6h-6z"/>
<path fill="#ed520c" d="M180 54h6v6h-6zM168 66h6v6h-6zM168 72h6v6h-6zM168 78h6v6h-6zM168 84h6v6h-6zM168 90h6v6h-6zM168 96h6v6h-6zM168 102h6v6h-6z"/>
<path fill="#d6da32" d="M156 60h6v6h-6zM156 66h6v6h-6zM150 72h6v6h-6z"/>
<path fill="#fd8813" d="M162 60h6v6h-6z"/>
<path fill="#e14208" d="M174 60h6v6h-6z"/>
</g><use href="#net"/></g><use href="#out"/></g>
<g transform="translate(808.9 99.9)"><g clip-path="url(#sec)"><g filter="url(#bl)">
<path fill="#0c4ada" d="M-6 -6h66v6h-66zM78 -6h18v6h-18zM-6 0h66v6h-66zM78 0h18v6h-18zM-6 6h66v6h-66zM78 6h18v6h-18zM6 12h90v6h-90zM12 18h84v6h-84zM24 24h12v6h-12zM54 24h42v6h-42zM54 30h54v6h-54zM54 36h6v6h-6zM90 36h18v6h-18zM54 42h6v6h-6zM90 42h18v6h-18zM90 48h6v6h-6zM90 54h6v6h-6zM90 60h6v6h-6z"/>
<path fill="#0a36cc" d="M60 -6h6v6h-6zM72 -6h6v6h-6zM60 0h6v6h-6zM72 0h6v6h-6zM60 6h6v6h-6zM72 6h6v6h-6zM36 24h6v6h-6zM48 24h6v6h-6zM48 30h6v6h-6zM48 36h6v6h-6zM60 36h6v6h-6zM84 36h6v6h-6zM60 42h6v6h-6zM84 42h6v6h-6zM84 48h6v6h-6zM84 54h6v6h-6z"/>
<path fill="#0a23a3" d="M66 -6h6v6h-6zM66 0h6v6h-6zM66 42h18v6h-18zM66 48h18v6h-18z"/>
<path fill="#0f74f7" d="M96 -6h6v6h-6zM96 0h6v6h-6zM96 6h6v6h-6zM96 12h6v6h-6zM108 24h6v6h-6zM102 48h6v6h-6zM96 54h6v6h-6zM96 60h6v6h-6zM96 66h6v6h-6z"/>
<path fill="#1896f5" d="M102 -6h18v6h-18zM102 0h18v6h-18zM102 6h18v6h-18zM102 12h18v6h-18zM102 18h18v6h-18zM114 24h6v6h-6zM114 30h6v6h-6zM114 36h6v6h-6zM114 42h6v6h-6zM108 48h6v6h-6zM102 54h6v6h-6zM102 60h6v6h-6zM102 66h6v6h-6z"/>
<path fill="#1fa7ed" d="M120 -6h6v6h-6zM120 0h6v6h-6zM120 6h6v6h-6zM120 12h6v6h-6zM120 18h6v6h-6zM120 24h6v6h-6zM120 30h6v6h-6zM120 36h6v6h-6zM120 42h6v6h-6zM108 54h6v6h-6zM108 60h6v6h-6zM108 66h6v6h-6zM108 72h6v6h-6z"/>
<path fill="#2dc8db" d="M126 -6h6v6h-6zM126 0h6v6h-6zM126 6h6v6h-6zM126 12h6v6h-6zM126 18h6v6h-6zM126 24h6v6h-6zM126 30h6v6h-6zM126 36h6v6h-6zM126 42h6v6h-6zM120 48h6v6h-6z"/>
<path fill="#38d8d0" d="M132 -6h6v6h-6zM132 0h6v6h-6zM132 6h6v6h-6zM132 12h6v6h-6zM132 18h6v6h-6zM132 24h6v6h-6zM132 30h6v6h-6zM132 36h6v6h-6zM132 42h6v6h-6zM114 54h12v6h-12zM114 60h12v6h-12zM114 66h12v6h-12zM114 72h6v6h-6z"/>
<path fill="#6af98e" d="M138 -6h6v6h-6zM138 0h6v6h-6zM138 6h6v6h-6zM138 12h6v6h-6zM138 18h6v6h-6zM138 24h6v6h-6zM138 30h6v6h-6zM138 36h6v6h-6zM138 42h6v6h-6zM132 48h6v6h-6zM126 54h6v6h-6zM126 60h6v6h-6zM126 66h6v6h-6z"/>
<path fill="#88fd73" d="M144 -6h6v6h-6zM144 0h6v6h-6zM144 6h6v6h-6zM144 12h6v6h-6zM144 18h6v6h-6zM144 24h6v6h-6zM144 30h6v6h-6zM144 36h6v6h-6zM132 54h6v6h-6z"/>
<path fill="#b4ee51" d="M150 -6h6v6h-6zM150 0h6v6h-6zM150 6h6v6h-6zM150 12h6v6h-6zM150 18h6v6h-6zM150 24h6v6h-6zM150 30h6v6h-6zM144 48h6v6h-6zM132 72h6v6h-6zM126 78h6v6h-6z"/>
<path fill="#c6e442" d="M156 -6h6v6h-6zM156 0h6v6h-6zM156 6h6v6h-6zM156 12h6v6h-6zM156 18h6v6h-6zM138 54h12v6h-12zM126 84h6v6h-6z"/>
<path fill="#e5c227" d="M162 -6h6v6h-6zM162 0h6v6h-6zM162 6h6v6h-6zM162 12h6v6h-6zM150 42h6v6h-6zM150 48h6v6h-6zM144 60h6v6h-6zM138 66h6v6h-6zM138 72h6v6h-6z"/>
<path fill="#f3a71d" d="M168 -6h6v6h-6zM168 0h6v6h-6zM168 6h6v6h-6zM168 12h6v6h-6zM162 18h6v6h-6zM156 36h6v6h-6zM156 42h6v6h-6zM156 48h6v6h-6zM150 54h12v6h-12zM138 78h6v6h-6zM138 84h6v6h-6zM138 90h6v6h-6z"/>
<path fill="#fc7310" d="M174 -6h6v6h-6zM174 0h6v6h-6zM174 6h6v6h-6zM174 12h6v6h-6zM162 30h6v6h-6zM162 36h6v6h-6zM156 60h6v6h-6z"/>
<path fill="#f86210" d="M180 -6h6v6h-6zM180 0h6v6h-6zM180 6h6v6h-6zM180 12h6v6h-6zM174 18h6v6h-6zM168 24h6v6h-6zM162 42h6v6h-6zM162 48h6v6h-6zM162 54h6v6h-6zM192 54h12v6h-12zM192 60h6v6h-6zM150 66h6v6h-6zM180 66h18v6h-18zM150 72h6v6h-6zM150 78h18v6h-18zM150 84h12v6h-12zM150 90h6v6h-6zM150 96h6v6h-6z"/>
<path fill="#d23608" d="M186 -6h6v6h-6zM186 0h6v6h-6zM186 6h6v6h-6zM186 12h6v6h-6zM186 18h6v6h-6zM180 24h6v6h-6zM174 30h6v6h-6zM174 36h6v6h-6zM174 42h6v6h-6zM174 48h6v6h-6zM186 48h6v6h-6zM174 54h6v6h-6zM168 60h6v6h-6zM174 78h6v6h-6z"/>
<path fill="#c22a08" d="M192 -6h18v6h-18zM192 0h18v6h-18zM192 6h18v6h-18zM192 12h18v6h-18zM192 18h18v6h-18zM186 24h24v6h-24zM180 30h30v6h-30zM180 36h24v6h-24zM180 42h24v6h-24zM180 48h6v6h-6zM180 54h6v6h-6zM162 66h12v6h-12zM180 78h12v6h-12zM174 84h18v6h-18zM162 90h24v6h-24zM162 96h24v6h-24zM162 102h18v6h-18z"/>
<path fill="#0a2bb9" d="M66 6h6v6h-6zM42 24h6v6h-6zM36 30h12v6h-12zM66 36h18v6h-18zM78 54h6v6h-6z"/>
<path fill="#0e5fe8" d="M96 18h6v6h-6zM96 24h12v6h-12zM108 30h6v6h-6zM108 36h6v6h-6zM108 42h6v6h-6zM96 48h6v6h-6z"/>
<path fill="#fd8813" d="M168 18h6v6h-6zM162 24h6v6h-6zM150 60h6v6h-6zM144 66h6v6h-6zM144 72h6v6h-6zM144 78h6v6h-6zM144 84h6v6h-6zM144 90h6v6h-6z"/>
<path fill="#ed520c" d="M180 18h6v6h-6zM168 30h6v6h-6zM168 36h6v6h-6zM168 42h6v6h-6zM168 48h6v6h-6zM168 54h6v6h-6zM186 60h6v6h-6zM156 66h6v6h-6zM174 66h6v6h-6zM156 72h6v6h-6zM168 78h6v6h-6zM156 90h6v6h-6zM156 96h6v6h-6z"/>
<path fill="#d6da32" d="M156 24h6v6h-6zM156 30h6v6h-6zM150 36h6v6h-6zM138 60h6v6h-6zM132 78h6v6h-6zM132 84h6v6h-6z"/>
<path fill="#e14208" d="M174 24h6v6h-6zM192 48h12v6h-12zM186 54h6v6h-6zM162 60h6v6h-6zM174 60h12v6h-12zM162 72h36v6h-36zM162 84h12v6h-12z"/>
<path fill="#9ff861" d="M144 42h6v6h-6zM138 48h6v6h-6zM132 60h6v6h-6zM132 66h6v6h-6zM126 72h6v6h-6z"/>
<path fill="#25b8e4" d="M114 48h6v6h-6z"/>
<path fill="#4bebb0" d="M126 48h6v6h-6zM120 72h6v6h-6zM120 78h6v6h-6z"/>
</g><use href="#net"/></g><use href="#out"/></g>
<g transform="translate(100.9 231)"><g clip-path="url(#sec)"><g filter="url(#bl)">
<path fill="#0a23a3" d="M-6 -6h24v6h-24zM-6 0h24v6h-24zM-6 6h24v6h-24zM6 12h12v6h-12zM12 18h18v6h-18zM24 24h6v6h-6z"/>
<path fill="#0a2bb9" d="M18 -6h6v6h-6zM18 0h6v6h-6zM18 6h6v6h-6zM18 12h18v6h-18zM30 18h6v6h-6zM30 24h6v6h-6z"/>
<path fill="#0a36cc" d="M24 -6h6v6h-6zM24 0h6v6h-6zM24 6h6v6h-6zM36 18h6v6h-6zM36 24h6v6h-6zM36 30h6v6h-6z"/>
<path fill="#0c4ada" d="M30 -6h6v6h-6zM78 -6h6v6h-6zM30 0h6v6h-6zM78 0h6v6h-6zM30 6h6v6h-6zM36 12h6v6h-6zM42 18h6v6h-6zM66 18h6v6h-6zM42 24h6v6h-6zM42 30h18v6h-18zM48 36h12v6h-12zM54 42h6v6h-6z"/>
<path fill="#1286fc" d="M36 -6h6v6h-6zM84 -6h6v6h-6zM36 0h6v6h-6zM84 0h6v6h-6zM48 12h6v6h-6zM78 12h6v6h-6zM66 24h6v6h-6z"/>
<path fill="#1896f5" d="M42 -6h30v6h-30zM42 0h30v6h-30zM42 6h30v6h-30zM84 6h6v6h-6zM54 12h6v6h-6zM54 18h6v6h-6zM66 30h6v6h-6zM60 36h6v6h-6zM60 42h6v6h-6z"/>
<path fill="#0f74f7" d="M72 -6h6v6h-6zM72 0h6v6h-6zM36 6h6v6h-6zM72 6h6v6h-6zM60 12h6v6h-6zM72 12h6v6h-6zM48 18h6v6h-6zM60 18h6v6h-6zM72 18h6v6h-6zM60 24h6v6h-6zM60 30h6v6h-6z"/>
<path fill="#38d8d0" d="M90 -6h18v6h-18zM126 -6h12v6h-12zM90 0h18v6h-18zM126 0h12v6h-12zM90 6h18v6h-18zM126 6h12v6h-12zM102 12h6v6h-6zM126 12h6v6h-6zM102 18h6v6h-6zM126 18h6v6h-6zM66 42h6v6h-6zM66 48h6v6h-6z"/>
<path fill="#6af98e" d="M108 -6h6v6h-6zM138 -6h6v6h-6zM108 0h6v6h-6zM138 0h6v6h-6zM108 6h6v6h-6zM90 12h6v6h-6zM120 12h6v6h-6zM90 18h12v6h-12zM114 18h12v6h-12zM132 18h6v6h-6zM84 24h12v6h-12zM78 30h6v6h-6zM78 36h6v6h-6zM78 42h6v6h-6zM78 48h6v6h-6z"/>
<path fill="#c6e442" d="M114 -6h6v6h-6zM156 -6h6v6h-6zM180 -6h6v6h-6zM114 0h6v6h-6zM156 0h6v6h-6zM180 0h6v6h-6zM156 6h6v6h-6zM180 6h6v6h-6zM150 12h18v6h-18zM174 12h12v6h-12zM144 18h42v6h-42zM168 24h18v6h-18zM102 30h6v6h-6zM126 30h6v6h-6zM168 30h42v6h-42zM102 36h6v6h-6zM144 36h6v6h-6zM180 36h24v6h-24zM102 42h6v6h-6zM144 42h6v6h-6zM180 42h24v6h-24zM156 48h6v6h-6zM192 48h12v6h-12zM90 54h6v6h-6zM168 54h6v6h-6zM192 54h12v6h-12zM90 60h6v6h-6zM192 60h6v6h-6zM192 66h6v6h-6zM174 72h6v6h-6zM192 72h6v6h-6zM180 78h12v6h-12zM180 84h12v6h-12zM180 90h6v6h-6zM180 96h6v6h-6z"/>
<path fill="#9ff861" d="M120 -6h6v6h-6zM186 -6h6v6h-6zM120 0h6v6h-6zM186 0h6v6h-6zM120 6h6v6h-6zM186 6h6v6h-6zM138 12h6v6h-6zM186 12h6v6h-6zM186 18h6v6h-6zM102 24h12v6h-12zM126 24h6v6h-6zM150 24h12v6h-12zM96 30h6v6h-6zM120 30h6v6h-6zM150 30h6v6h-6zM96 36h6v6h-6zM168 36h6v6h-6zM96 42h6v6h-6zM174 48h12v6h-12zM84 54h6v6h-6zM174 60h6v6h-6zM174 66h6v6h-6zM180 72h6v6h-6z"/>
<path fill="#88fd73" d="M144 -6h6v6h-6zM192 -6h18v6h-18zM144 0h6v6h-6zM192 0h18v6h-18zM138 6h12v6h-12zM192 6h18v6h-18zM114 12h6v6h-6zM192 12h18v6h-18zM192 18h18v6h-18zM96 24h6v6h-6zM114 24h12v6h-12zM84 30h12v6h-12zM114 30h6v6h-6zM156 30h6v6h-6zM84 36h12v6h-12zM150 36h18v6h-18zM84 42h12v6h-12zM150 42h24v6h-24zM84 48h6v6h-6zM78 54h6v6h-6zM174 54h12v6h-12zM180 60h6v6h-6zM180 66h6v6h-6z"/>
<path fill="#b4ee51" d="M150 -6h6v6h-6zM150 0h6v6h-6zM114 6h6v6h-6zM150 6h6v6h-6zM144 12h6v6h-6zM138 18h6v6h-6zM132 24h6v6h-6zM162 24h6v6h-6zM186 24h24v6h-24zM108 30h6v6h-6zM162 30h6v6h-6zM174 36h6v6h-6zM174 42h6v6h-6zM90 48h6v6h-6zM162 48h12v6h-12zM186 48h6v6h-6zM186 54h6v6h-6zM186 60h6v6h-6zM186 66h6v6h-6zM186 72h6v6h-6z"/>
<path fill="#e5c227" d="M162 -6h6v6h-6zM162 0h6v6h-6zM162 6h12v6h-12zM138 24h6v6h-6zM144 30h6v6h-6zM108 42h6v6h-6zM96 54h6v6h-6zM96 60h6v6h-6zM162 60h6v6h-6zM96 66h6v6h-6zM168 66h6v6h-6zM174 78h6v6h-6z"/>
<path fill="#f3a71d" d="M168 -6h6v6h-6zM168 0h6v6h-6zM138 30h6v6h-6zM114 36h12v6h-12zM132 36h6v6h-6zM144 48h6v6h-6zM156 54h6v6h-6zM168 90h6v6h-6zM168 96h6v6h-6zM168 102h6v6h-6z"/>
<path fill="#d6da32" d="M174 -6h6v6h-6zM174 0h6v6h-6zM174 6h6v6h-6zM168 12h6v6h-6zM144 24h6v6h-6zM132 30h6v6h-6zM108 36h6v6h-6zM138 36h6v6h-6zM138 42h6v6h-6zM96 48h6v6h-6zM150 48h6v6h-6zM162 54h6v6h-6zM168 60h6v6h-6zM174 84h6v6h-6zM174 90h6v6h-6zM174 96h6v6h-6zM174 102h6v6h-6z"/>
<path fill="#0e5fe8" d="M78 6h6v6h-6zM42 12h6v6h-6zM66 12h6v6h-6zM48 24h12v6h-12z"/>
<path fill="#25b8e4" d="M84 12h6v6h-6zM72 24h6v6h-6z"/>
<path fill="#4bebb0" d="M96 12h6v6h-6zM108 12h6v6h-6zM132 12h6v6h-6zM108 18h6v6h-6zM78 24h6v6h-6zM72 36h6v6h-6zM72 42h6v6h-6zM72 48h6v6h-6z"/>
<path fill="#1fa7ed" d="M78 18h6v6h-6z"/>
<path fill="#2dc8db" d="M84 18h6v6h-6zM72 30h6v6h-6zM66 36h6v6h-6z"/>
<path fill="#fd8813" d="M126 36h6v6h-6zM102 48h6v6h-6zM138 48h6v6h-6zM150 54h6v6h-6zM156 60h6v6h-6zM162 66h6v6h-6zM168 72h6v6h-6zM168 84h6v6h-6zM162 90h6v6h-6zM162 96h6v6h-6zM162 102h6v6h-6z"/>
<path fill="#f86210" d="M114 42h18v6h-18zM102 54h6v6h-6zM144 54h6v6h-6zM102 60h6v6h-6zM102 66h6v6h-6zM156 66h6v6h-6zM156 72h6v6h-6zM156 78h18v6h-18zM156 84h6v6h-6zM156 90h6v6h-6zM156 96h6v6h-6z"/>
<path fill="#fc7310" d="M132 42h6v6h-6zM108 48h6v6h-6zM150 60h6v6h-6zM162 72h6v6h-6zM162 84h6v6h-6z"/>
<path fill="#d23608" d="M114 48h18v6h-18zM138 60h6v6h-6z"/>
<path fill="#e14208" d="M132 48h6v6h-6zM108 54h6v6h-6zM108 60h6v6h-6zM144 60h6v6h-6zM108 66h6v6h-6zM108 72h6v6h-6z"/>
<path fill="#c22a08" d="M114 54h24v6h-24zM114 60h24v6h-24zM114 66h36v6h-36zM114 72h36v6h-36zM120 78h30v6h-30zM126 84h24v6h-24zM138 90h12v6h-12z"/>
<path fill="#ed520c" d="M138 54h6v6h-6zM150 66h6v6h-6zM150 72h6v6h-6zM150 78h6v6h-6zM150 84h6v6h-6zM150 90h6v6h-6zM150 96h6v6h-6z"/>
</g><use href="#net"/></g><use href="#out"/></g>
<g transform="translate(336.9 231)"><g clip-path="url(#sec)"><g filter="url(#bl)">
<path fill="#0c4ada" d="M-6 -6h66v6h-66zM90 -6h6v6h-6zM-6 0h66v6h-66zM90 0h6v6h-6zM-6 6h66v6h-66zM6 12h54v6h-54zM12 18h48v6h-48zM24 24h36v6h-36zM36 30h36v6h-36zM48 36h12v6h-12zM54 42h6v6h-6z"/>
<path fill="#0f74f7" d="M60 -6h6v6h-6zM84 -6h6v6h-6zM96 -6h6v6h-6zM60 0h6v6h-6zM84 0h6v6h-6zM96 0h6v6h-6zM60 6h6v6h-6zM84 6h6v6h-6zM96 6h6v6h-6zM60 12h6v6h-6zM60 18h6v6h-6zM72 30h6v6h-6zM60 36h6v6h-6zM60 42h6v6h-6z"/>
<path fill="#1896f5" d="M66 -6h18v6h-18zM102 -6h30v6h-30zM66 0h18v6h-18zM102 0h30v6h-30zM66 6h18v6h-18zM102 6h30v6h-30zM66 12h24v6h-24zM102 12h6v6h-6zM66 18h42v6h-42zM78 24h18v6h-18zM78 30h18v6h-18zM66 42h6v6h-6zM102 42h6v6h-6zM66 48h6v6h-6zM102 66h6v6h-6z"/>
<path fill="#1fa7ed" d="M132 -6h6v6h-6zM132 0h6v6h-6zM108 12h6v6h-6zM108 18h6v6h-6zM96 24h6v6h-6zM96 30h6v6h-6zM72 36h6v6h-6zM102 36h6v6h-6zM108 42h6v6h-6zM108 66h6v6h-6zM108 72h6v6h-6z"/>
<path fill="#6af98e" d="M138 -6h6v6h-6zM138 0h6v6h-6zM138 6h6v6h-6zM138 12h6v6h-6zM138 18h6v6h-6zM114 24h6v6h-6zM138 24h6v6h-6zM114 30h12v6h-12zM138 30h6v6h-6zM138 36h6v6h-6zM138 42h6v6h-6zM132 48h12v6h-12zM90 54h6v6h-6zM126 54h6v6h-6zM90 60h6v6h-6zM126 60h6v6h-6zM126 66h6v6h-6zM126 72h6v6h-6zM126 78h6v6h-6zM126 84h6v6h-6z"/>
<path fill="#88fd73" d="M144 -6h6v6h-6zM144 0h6v6h-6zM144 6h6v6h-6zM144 12h6v6h-6zM144 18h6v6h-6zM144 24h6v6h-6zM144 30h6v6h-6zM144 36h6v6h-6zM144 42h6v6h-6zM144 48h6v6h-6zM132 54h12v6h-12zM132 60h6v6h-6zM132 66h6v6h-6zM132 72h6v6h-6zM132 78h6v6h-6zM132 84h6v6h-6z"/>
<path fill="#b4ee51" d="M150 -6h6v6h-6zM150 0h6v6h-6zM150 6h6v6h-6zM150 12h6v6h-6zM150 18h6v6h-6zM150 24h6v6h-6zM150 30h6v6h-6zM150 36h6v6h-6zM150 42h6v6h-6zM144 60h6v6h-6zM138 66h6v6h-6zM138 72h6v6h-6zM138 78h6v6h-6zM138 84h6v6h-6zM138 90h6v6h-6z"/>
<path fill="#d6da32" d="M156 -6h6v6h-6zM156 0h6v6h-6zM156 6h6v6h-6zM156 36h6v6h-6zM156 42h6v6h-6zM150 48h6v6h-6zM144 66h6v6h-6zM144 72h6v6h-6zM144 78h6v6h-6zM144 84h6v6h-6z"/>
<path fill="#fc7310" d="M162 -6h6v6h-6zM162 0h6v6h-6zM162 6h6v6h-6zM174 18h6v6h-6zM174 24h6v6h-6zM162 42h6v6h-6zM162 48h6v6h-6zM156 60h6v6h-6zM150 66h6v6h-6zM150 72h6v6h-6zM174 72h24v6h-24zM150 78h6v6h-6zM156 84h6v6h-6z"/>
<path fill="#f86210" d="M168 -6h42v6h-42zM168 0h42v6h-42zM168 6h42v6h-42zM174 12h36v6h-36zM180 18h6v6h-6zM180 24h6v6h-6zM174 30h6v6h-6zM168 36h6v6h-6zM168 48h6v6h-6zM162 54h42v6h-42zM162 60h36v6h-36zM156 66h42v6h-42zM156 72h18v6h-18zM156 78h18v6h-18zM162 84h12v6h-12zM162 90h12v6h-12zM162 96h12v6h-12zM162 102h12v6h-12z"/>
<path fill="#0e5fe8" d="M90 6h6v6h-6zM60 24h12v6h-12z"/>
<path fill="#25b8e4" d="M132 6h6v6h-6zM96 36h6v6h-6zM108 36h6v6h-6zM72 42h6v6h-6zM96 42h6v6h-6zM72 48h6v6h-6zM102 48h6v6h-6zM102 60h12v6h-12z"/>
<path fill="#1286fc" d="M90 12h12v6h-12zM72 24h6v6h-6zM66 36h6v6h-6z"/>
<path fill="#2dc8db" d="M114 12h18v6h-18zM102 24h6v6h-6zM102 30h6v6h-6zM78 36h18v6h-18zM108 48h6v6h-6z"/>
<path fill="#38d8d0" d="M132 12h6v6h-6zM114 18h24v6h-24zM108 24h6v6h-6zM126 24h12v6h-12zM108 30h6v6h-6zM126 30h12v6h-12zM114 36h24v6h-24zM78 42h18v6h-18zM114 42h24v6h-24zM78 48h12v6h-12zM96 48h6v6h-6zM114 48h12v6h-12zM78 54h6v6h-6zM102 54h24v6h-24zM114 60h12v6h-12zM96 66h6v6h-6zM114 66h12v6h-12zM114 72h12v6h-12zM120 78h6v6h-6z"/>
<path fill="#c6e442" d="M156 12h6v6h-6zM156 18h6v6h-6zM156 24h6v6h-6zM156 30h6v6h-6zM144 90h6v6h-6z"/>
<path fill="#f3a71d" d="M162 12h6v6h-6zM168 18h6v6h-6zM168 24h6v6h-6zM168 30h6v6h-6zM156 54h6v6h-6zM180 78h12v6h-12zM180 84h12v6h-12zM150 90h12v6h-12zM180 90h6v6h-6zM156 96h6v6h-6zM180 96h6v6h-6z"/>
<path fill="#fd8813" d="M168 12h6v6h-6zM162 36h6v6h-6zM150 60h6v6h-6zM174 78h6v6h-6zM150 84h6v6h-6zM174 84h6v6h-6zM174 90h6v6h-6zM174 96h6v6h-6zM174 102h6v6h-6z"/>
<path fill="#e5c227" d="M162 18h6v6h-6zM162 24h6v6h-6zM162 30h6v6h-6zM156 48h6v6h-6zM150 54h6v6h-6zM150 96h6v6h-6z"/>
<path fill="#ed520c" d="M186 18h24v6h-24zM180 30h6v6h-6zM168 42h6v6h-6zM174 48h6v6h-6z"/>
<path fill="#4bebb0" d="M120 24h6v6h-6zM90 48h6v6h-6zM126 48h6v6h-6zM84 54h6v6h-6zM96 54h6v6h-6zM96 60h6v6h-6z"/>
<path fill="#e14208" d="M186 24h6v6h-6zM174 36h6v6h-6zM180 48h24v6h-24z"/>
<path fill="#d23608" d="M192 24h18v6h-18zM186 30h6v6h-6zM180 36h6v6h-6zM174 42h6v6h-6z"/>
<path fill="#c22a08" d="M192 30h18v6h-18zM186 36h18v6h-18zM180 42h24v6h-24z"/>
<path fill="#9ff861" d="M144 54h6v6h-6zM138 60h6v6h-6z"/>
</g><use href="#net"/></g><use href="#out"/></g>
<g transform="translate(572.9 231)"><g clip-path="url(#sec)"><g filter="url(#bl)">
<path fill="#0c4ada" d="M-6 -6h30v6h-30zM42 -6h30v6h-30zM102 -6h30v6h-30zM-6 0h30v6h-30zM42 0h30v6h-30zM102 0h30v6h-30zM-6 6h30v6h-30zM42 6h30v6h-30zM102 6h12v6h-12zM120 6h12v6h-12zM6 12h18v6h-18zM42 12h30v6h-30zM102 12h6v6h-6zM126 12h6v6h-6zM12 18h6v6h-6zM42 18h30v6h-30zM102 18h6v6h-6zM42 24h6v6h-6zM66 24h12v6h-12zM96 24h12v6h-12zM42 30h6v6h-6zM66 30h42v6h-42zM66 36h30v6h-30zM66 42h30v6h-30zM66 48h30v6h-30zM78 54h30v6h-30zM90 60h6v6h-6z"/>
<path fill="#1286fc" d="M24 -6h6v6h-6zM24 0h6v6h-6zM24 6h6v6h-6zM24 12h6v6h-6zM114 12h6v6h-6zM24 18h6v6h-6zM120 18h6v6h-6zM126 24h12v6h-12zM108 30h6v6h-6zM102 36h6v6h-6z"/>
<path fill="#1896f5" d="M30 -6h6v6h-6zM30 0h6v6h-6zM30 6h6v6h-6zM30 12h6v6h-6zM30 18h6v6h-6zM114 18h6v6h-6zM24 24h12v6h-12zM126 30h18v6h-18zM108 36h6v6h-6zM102 42h18v6h-18zM114 48h6v6h-6zM114 54h6v6h-6zM108 60h6v6h-6zM102 66h6v6h-6z"/>
<path fill="#0e5fe8" d="M36 -6h6v6h-6zM36 0h6v6h-6zM36 6h6v6h-6zM114 6h6v6h-6zM36 12h6v6h-6zM108 12h6v6h-6zM18 18h6v6h-6zM36 18h6v6h-6zM108 18h6v6h-6zM126 18h6v6h-6zM36 24h6v6h-6zM36 30h6v6h-6zM96 36h6v6h-6zM96 48h6v6h-6zM108 54h6v6h-6zM96 60h6v6h-6z"/>
<path fill="#0a36cc" d="M72 -6h6v6h-6zM72 0h6v6h-6zM72 6h6v6h-6zM72 12h6v6h-6zM72 18h6v6h-6zM96 18h6v6h-6zM48 24h6v6h-6zM60 24h6v6h-6zM78 24h18v6h-18zM60 30h6v6h-6zM60 36h6v6h-6zM60 42h6v6h-6z"/>
<path fill="#0a23a3" d="M78 -6h18v6h-18zM78 0h18v6h-18zM78 6h18v6h-18zM78 12h18v6h-18z"/>
<path fill="#0a2bb9" d="M96 -6h6v6h-6zM96 0h6v6h-6zM96 6h6v6h-6zM96 12h6v6h-6zM78 18h18v6h-18zM54 24h6v6h-6zM48 30h12v6h-12zM48 36h12v6h-12zM54 42h6v6h-6z"/>
<path fill="#0f74f7" d="M132 -6h6v6h-6zM132 0h6v6h-6zM132 6h6v6h-6zM120 12h6v6h-6zM132 12h6v6h-6zM132 18h6v6h-6zM108 24h6v6h-6zM96 42h6v6h-6zM102 48h12v6h-12zM102 60h6v6h-6zM96 66h6v6h-6z"/>
<path fill="#2dc8db" d="M138 -6h6v6h-6zM138 0h6v6h-6zM138 6h6v6h-6zM138 12h6v6h-6zM138 18h6v6h-6zM114 30h12v6h-12zM132 36h6v6h-6zM126 42h6v6h-6zM126 48h6v6h-6zM126 54h6v6h-6zM120 60h6v6h-6z"/>
<path fill="#38d8d0" d="M144 -6h6v6h-6zM144 0h6v6h-6zM144 6h6v6h-6zM144 12h6v6h-6zM144 18h6v6h-6zM138 36h6v6h-6zM132 42h6v6h-6zM132 48h6v6h-6zM132 54h6v6h-6zM114 66h12v6h-12zM114 72h12v6h-12zM120 78h6v6h-6z"/>
<path fill="#6af98e" d="M150 -6h6v6h-6zM150 0h6v6h-6zM150 6h6v6h-6zM150 12h6v6h-6zM150 18h6v6h-6zM150 24h6v6h-6zM150 30h6v6h-6zM138 42h6v6h-6zM138 48h6v6h-6zM138 54h6v6h-6zM132 60h12v6h-12zM126 66h12v6h-12zM126 72h6v6h-6zM126 78h6v6h-6zM126 84h6v6h-6z"/>
<path fill="#88fd73" d="M156 -6h6v6h-6zM156 0h6v6h-6zM156 6h6v6h-6zM156 12h6v6h-6zM156 18h6v6h-6zM144 42h6v6h-6zM144 48h6v6h-6zM144 54h12v6h-12zM144 60h6v6h-6zM138 66h12v6h-12zM132 72h18v6h-18zM132 78h18v6h-18zM132 84h18v6h-18zM138 90h6v6h-6z"/>
<path fill="#b4ee51" d="M162 -6h6v6h-6zM162 0h6v6h-6zM162 6h6v6h-6zM150 42h6v6h-6zM156 48h6v6h-6zM156 60h6v6h-6zM150 66h6v6h-6zM150 72h6v6h-6zM150 78h6v6h-6z"/>
<path fill="#c6e442" d="M168 -6h6v6h-6zM168 0h6v6h-6zM156 36h6v6h-6zM192 54h12v6h-12zM192 60h6v6h-6zM156 66h6v6h-6zM192 66h6v6h-6zM156 72h6v6h-6zM156 78h6v6h-6zM150 84h6v6h-6z"/>
<path fill="#e5c227" d="M174 -6h6v6h-6zM174 0h6v6h-6zM162 18h6v6h-6zM186 54h6v6h-6zM162 66h6v6h-6zM162 72h6v6h-6zM162 78h6v6h-6zM156 84h6v6h-6zM150 90h6v6h-6zM150 96h6v6h-6z"/>
<path fill="#f3a71d" d="M180 -6h6v6h-6zM180 0h6v6h-6zM174 6h6v6h-6zM168 12h6v6h-6zM162 24h6v6h-6zM192 42h12v6h-12zM186 48h6v6h-6zM162 60h6v6h-6zM168 66h18v6h-18zM168 72h6v6h-6zM192 72h6v6h-6zM168 78h6v6h-6z"/>
<path fill="#fc7310" d="M186 -6h6v6h-6zM186 0h6v6h-6zM186 6h6v6h-6zM174 12h6v6h-6zM162 36h6v6h-6zM162 42h6v6h-6zM186 42h6v6h-6zM180 72h6v6h-6zM174 78h6v6h-6zM162 84h6v6h-6z"/>
<path fill="#f86210" d="M192 -6h18v6h-18zM192 0h18v6h-18zM192 6h18v6h-18zM180 12h30v6h-30zM174 18h6v6h-6zM186 18h24v6h-24zM168 24h6v6h-6zM192 24h18v6h-18zM192 30h18v6h-18zM186 36h6v6h-6zM168 48h6v6h-6zM168 54h18v6h-18zM180 78h12v6h-12zM168 84h24v6h-24zM180 90h6v6h-6zM180 96h6v6h-6z"/>
<path fill="#d6da32" d="M168 6h6v6h-6zM162 12h6v6h-6zM156 42h6v6h-6zM192 48h12v6h-12zM186 60h6v6h-6zM186 66h6v6h-6z"/>
<path fill="#fd8813" d="M180 6h6v6h-6zM168 18h6v6h-6zM162 30h6v6h-6zM192 36h12v6h-12zM162 48h6v6h-6zM162 54h6v6h-6zM168 60h18v6h-18zM174 72h6v6h-6zM186 72h6v6h-6zM156 90h6v6h-6zM156 96h6v6h-6z"/>
<path fill="#ed520c" d="M180 18h6v6h-6zM186 24h6v6h-6zM168 30h6v6h-6zM168 36h6v6h-6zM168 42h6v6h-6zM174 48h12v6h-12zM174 90h6v6h-6zM174 96h6v6h-6zM174 102h6v6h-6z"/>
<path fill="#25b8e4" d="M114 24h12v6h-12zM144 24h6v6h-6zM120 36h12v6h-12zM114 60h6v6h-6z"/>
<path fill="#1fa7ed" d="M138 24h6v6h-6zM144 30h6v6h-6zM114 36h6v6h-6zM120 42h6v6h-6zM120 48h6v6h-6zM120 54h6v6h-6zM108 66h6v6h-6zM108 72h6v6h-6z"/>
<path fill="#9ff861" d="M156 24h6v6h-6zM156 30h6v6h-6zM150 36h6v6h-6zM150 48h6v6h-6zM156 54h6v6h-6zM150 60h6v6h-6zM144 90h6v6h-6z"/>
<path fill="#e14208" d="M174 24h6v6h-6zM186 30h6v6h-6z"/>
<path fill="#d23608" d="M180 24h6v6h-6zM174 30h6v6h-6zM174 36h6v6h-6zM174 42h6v6h-6zM162 90h6v6h-6zM162 96h6v6h-6zM162 102h6v6h-6z"/>
<path fill="#c22a08" d="M180 30h6v6h-6zM180 36h6v6h-6zM180 42h6v6h-6zM168 90h6v6h-6zM168 96h6v6h-6zM168 102h6v6h-6z"/>
<path fill="#4bebb0" d="M144 36h6v6h-6zM126 60h6v6h-6z"/>
</g><use href="#net"/></g><use href="#out"/></g>
<g transform="translate(808.9 231)"><g clip-path="url(#sec)"><g filter="url(#bl)">
<path fill="#c6e442" d="M-6 -6h18v6h-18zM180 -6h6v6h-6zM-6 0h18v6h-18zM180 0h6v6h-6zM-6 6h18v6h-18zM48 6h6v6h-6zM180 6h6v6h-6zM6 12h6v6h-6zM162 24h6v6h-6zM138 60h18v6h-18zM126 66h6v6h-6zM150 66h6v6h-6zM126 72h12v6h-12zM126 78h24v6h-24zM126 84h18v6h-18zM138 90h6v6h-6z"/>
<path fill="#e5c227" d="M12 -6h12v6h-12zM186 -6h6v6h-6zM12 0h12v6h-12zM186 0h6v6h-6zM12 6h12v6h-12zM54 6h6v6h-6zM186 6h6v6h-6zM12 12h12v6h-12zM12 18h6v6h-6zM174 18h6v6h-6zM168 24h6v6h-6zM162 30h6v6h-6zM162 36h6v6h-6zM162 42h6v6h-6zM144 66h6v6h-6zM156 72h6v6h-6zM150 78h6v6h-6z"/>
<path fill="#9ff861" d="M24 -6h6v6h-6zM24 0h6v6h-6zM24 6h6v6h-6zM54 12h6v6h-6zM168 18h6v6h-6zM150 48h6v6h-6zM132 60h6v6h-6z"/>
<path fill="#88fd73" d="M30 -6h18v6h-18zM168 -6h6v6h-6zM30 0h18v6h-18zM168 0h6v6h-6zM42 6h6v6h-6zM168 6h6v6h-6zM24 12h6v6h-6zM42 12h12v6h-12zM168 12h6v6h-6zM156 30h6v6h-6zM156 36h6v6h-6zM156 42h6v6h-6zM144 54h6v6h-6zM126 60h6v6h-6zM120 66h6v6h-6zM120 72h6v6h-6zM120 78h6v6h-6z"/>
<path fill="#d6da32" d="M48 -6h6v6h-6zM48 0h6v6h-6zM174 12h6v6h-6zM18 18h6v6h-6zM156 54h6v6h-6zM156 60h6v6h-6zM132 66h6v6h-6zM156 66h6v6h-6zM138 72h18v6h-18zM144 84h6v6h-6zM144 90h6v6h-6z"/>
<path fill="#f3a71d" d="M54 -6h6v6h-6zM192 -6h18v6h-18zM54 0h6v6h-6zM192 0h18v6h-18zM192 6h18v6h-18zM180 12h6v6h-6zM180 18h6v6h-6zM168 30h6v6h-6zM168 36h6v6h-6zM168 42h6v6h-6zM192 54h12v6h-12zM192 60h6v6h-6zM138 66h6v6h-6zM192 66h6v6h-6zM192 72h6v6h-6zM156 78h6v6h-6zM180 78h12v6h-12zM180 84h12v6h-12zM180 90h6v6h-6zM180 96h6v6h-6z"/>
<path fill="#b4ee51" d="M60 -6h6v6h-6zM174 -6h6v6h-6zM60 0h6v6h-6zM174 0h6v6h-6zM60 6h6v6h-6zM174 6h6v6h-6zM156 48h6v6h-6zM150 54h6v6h-6z"/>
<path fill="#6af98e" d="M66 -6h6v6h-6zM162 -6h6v6h-6zM66 0h6v6h-6zM162 0h6v6h-6zM30 6h12v6h-12zM66 6h6v6h-6zM162 6h6v6h-6zM36 12h6v6h-6zM162 12h6v6h-6zM24 18h6v6h-6zM42 18h18v6h-18zM162 18h6v6h-6zM156 24h6v6h-6zM150 30h6v6h-6zM150 36h6v6h-6zM150 42h6v6h-6zM144 48h6v6h-6zM138 54h6v6h-6zM114 66h6v6h-6zM114 72h6v6h-6z"/>
<path fill="#1fa7ed" d="M72 -6h6v6h-6zM108 -6h6v6h-6zM144 -6h6v6h-6zM72 0h6v6h-6zM108 0h6v6h-6zM144 0h6v6h-6zM72 6h6v6h-6zM108 6h6v6h-6zM144 6h6v6h-6zM66 12h6v6h-6zM144 12h6v6h-6zM144 18h6v6h-6zM132 24h6v6h-6zM132 30h6v6h-6zM120 36h6v6h-6zM120 42h6v6h-6zM120 48h6v6h-6zM120 54h6v6h-6zM108 60h6v6h-6z"/>
<path fill="#0c4ada" d="M78 -6h18v6h-18zM78 0h18v6h-18zM78 6h18v6h-18zM78 12h18v6h-18zM78 18h18v6h-18zM42 30h30v6h-30zM102 30h6v6h-6zM48 36h24v6h-24zM102 36h6v6h-6zM54 42h30v6h-30zM102 42h6v6h-6zM66 48h42v6h-42zM78 54h6v6h-6zM102 54h6v6h-6zM96 60h6v6h-6z"/>
<path fill="#0f74f7" d="M96 -6h6v6h-6zM96 0h6v6h-6zM96 6h6v6h-6zM96 12h6v6h-6zM114 12h12v6h-12zM72 18h6v6h-6zM96 18h6v6h-6zM60 24h6v6h-6zM72 24h6v6h-6zM96 24h6v6h-6zM108 24h6v6h-6zM36 30h6v6h-6zM72 30h6v6h-6zM84 42h6v6h-6zM96 42h6v6h-6z"/>
<path fill="#1896f5" d="M102 -6h6v6h-6zM126 -6h18v6h-18zM102 0h6v6h-6zM126 0h18v6h-18zM102 6h6v6h-6zM126 6h18v6h-18zM102 12h6v6h-6zM126 12h18v6h-18zM66 18h6v6h-6zM102 18h6v6h-6zM126 18h18v6h-18zM36 24h6v6h-6zM126 24h6v6h-6zM78 30h18v6h-18zM114 30h18v6h-18zM90 36h6v6h-6zM114 36h6v6h-6zM90 42h6v6h-6zM114 42h6v6h-6zM114 48h6v6h-6zM114 54h6v6h-6zM102 60h6v6h-6z"/>
<path fill="#38d8d0" d="M114 -6h6v6h-6zM156 -6h6v6h-6zM114 0h6v6h-6zM156 0h6v6h-6zM156 6h6v6h-6zM30 12h6v6h-6zM60 12h6v6h-6zM156 12h6v6h-6zM30 18h6v6h-6zM156 18h6v6h-6zM24 24h6v6h-6zM144 30h6v6h-6zM138 36h12v6h-12zM132 42h18v6h-18zM132 48h6v6h-6zM132 54h6v6h-6z"/>
<path fill="#2dc8db" d="M120 -6h6v6h-6zM150 -6h6v6h-6zM120 0h6v6h-6zM150 0h6v6h-6zM114 6h6v6h-6zM150 6h6v6h-6zM150 12h6v6h-6zM150 18h6v6h-6zM30 24h6v6h-6zM144 24h6v6h-6zM138 30h6v6h-6zM132 36h6v6h-6zM126 42h6v6h-6zM126 48h6v6h-6zM126 54h6v6h-6zM114 60h6v6h-6zM102 66h6v6h-6z"/>
<path fill="#25b8e4" d="M120 6h6v6h-6zM60 18h6v6h-6zM138 24h6v6h-6zM126 36h6v6h-6z"/>
<path fill="#1286fc" d="M72 12h6v6h-6zM108 12h6v6h-6zM108 18h6v6h-6zM42 24h18v6h-18zM78 24h18v6h-18zM114 24h12v6h-12zM96 30h6v6h-6zM84 36h6v6h-6zM96 36h6v6h-6z"/>
<path fill="#fc7310" d="M186 12h6v6h-6zM174 30h6v6h-6zM174 36h6v6h-6zM168 48h6v6h-6zM162 54h6v6h-6zM186 54h6v6h-6zM162 60h6v6h-6zM186 60h6v6h-6zM162 66h6v6h-6zM162 72h6v6h-6zM174 72h12v6h-12zM156 84h6v6h-6zM150 90h6v6h-6zM174 90h6v6h-6zM150 96h6v6h-6zM174 96h6v6h-6zM174 102h6v6h-6z"/>
<path fill="#f86210" d="M192 12h18v6h-18zM186 18h6v6h-6zM180 24h6v6h-6zM180 30h6v6h-6zM180 36h6v6h-6zM174 42h30v6h-30zM186 48h6v6h-6zM168 60h6v6h-6zM168 66h18v6h-18zM168 72h6v6h-6zM162 78h12v6h-12z"/>
<path fill="#4bebb0" d="M36 18h6v6h-6zM150 24h6v6h-6zM138 48h6v6h-6zM120 60h6v6h-6zM108 66h6v6h-6zM108 72h6v6h-6z"/>
<path fill="#0e5fe8" d="M114 18h12v6h-12zM66 24h6v6h-6zM102 24h6v6h-6zM108 30h6v6h-6zM72 36h12v6h-12zM108 36h6v6h-6zM108 42h6v6h-6zM108 48h6v6h-6zM108 54h6v6h-6zM96 66h6v6h-6z"/>
<path fill="#ed520c" d="M192 18h18v6h-18zM186 36h6v6h-6zM168 54h6v6h-6zM162 84h6v6h-6zM156 90h6v6h-6zM156 96h6v6h-6z"/>
<path fill="#fd8813" d="M174 24h6v6h-6zM162 48h6v6h-6zM192 48h12v6h-12zM186 66h6v6h-6zM186 72h6v6h-6zM174 78h6v6h-6zM150 84h6v6h-6zM174 84h6v6h-6z"/>
<path fill="#e14208" d="M186 24h6v6h-6zM192 36h12v6h-12zM174 48h6v6h-6zM174 60h12v6h-12zM168 84h6v6h-6z"/>
<path fill="#d23608" d="M192 24h18v6h-18zM186 30h6v6h-6zM180 48h6v6h-6zM174 54h6v6h-6z"/>
<path fill="#c22a08" d="M192 30h18v6h-18zM180 54h6v6h-6zM162 90h12v6h-12zM162 96h12v6h-12zM162 102h12v6h-12z"/>
<path fill="#0a36cc" d="M84 54h6v6h-6zM96 54h6v6h-6z"/>
<path fill="#0a2bb9" d="M90 54h6v6h-6z"/>
<path fill="#0a23a3" d="M90 60h6v6h-6z"/>
</g><use href="#net"/></g><use href="#out"/></g>
<g transform="translate(100.9 364.3)"><g clip-path="url(#sec)"><g filter="url(#bl)">
<path fill="#0c4ada" d="M-6 -6h12v6h-12zM-6 0h12v6h-12zM-6 6h12v6h-12zM174 6h6v6h-6zM180 30h6v6h-6zM180 36h6v6h-6zM180 42h6v6h-6zM168 54h6v6h-6zM144 72h6v6h-6zM132 78h6v6h-6zM126 84h12v6h-12z"/>
<path fill="#0e5fe8" d="M6 -6h6v6h-6zM6 0h6v6h-6zM6 6h6v6h-6zM6 12h6v6h-6zM180 24h6v6h-6zM174 42h6v6h-6zM162 54h6v6h-6zM162 60h12v6h-12zM138 66h12v6h-12zM162 66h12v6h-12zM132 72h6v6h-6zM126 78h6v6h-6z"/>
<path fill="#1286fc" d="M12 -6h6v6h-6zM168 -6h6v6h-6zM12 0h6v6h-6zM168 0h6v6h-6zM12 6h6v6h-6zM12 12h6v6h-6zM180 12h6v6h-6zM174 30h6v6h-6zM186 30h6v6h-6zM186 36h6v6h-6zM186 42h6v6h-6zM180 48h6v6h-6zM174 54h6v6h-6zM132 66h6v6h-6zM150 66h6v6h-6zM126 72h6v6h-6zM150 72h6v6h-6zM150 78h6v6h-6zM150 84h6v6h-6zM150 90h6v6h-6zM150 96h6v6h-6z"/>
<path fill="#1fa7ed" d="M18 -6h6v6h-6zM162 -6h6v6h-6zM18 0h6v6h-6zM162 0h6v6h-6zM18 6h6v6h-6zM186 6h6v6h-6zM18 12h6v6h-6zM18 18h6v6h-6zM174 18h6v6h-6zM192 24h18v6h-18zM120 30h6v6h-6zM138 30h12v6h-12zM120 36h6v6h-6zM120 42h6v6h-6zM162 42h6v6h-6zM120 48h6v6h-6zM156 48h6v6h-6zM120 54h6v6h-6zM132 60h6v6h-6zM186 60h6v6h-6zM108 66h6v6h-6zM186 66h6v6h-6zM108 72h6v6h-6zM174 72h6v6h-6zM186 72h6v6h-6zM174 78h6v6h-6zM174 84h6v6h-6zM174 90h6v6h-6zM174 96h6v6h-6zM174 102h6v6h-6z"/>
<path fill="#4bebb0" d="M24 -6h6v6h-6zM36 -6h6v6h-6zM24 0h6v6h-6zM36 0h6v6h-6zM24 6h6v6h-6zM36 6h12v6h-12zM156 6h6v6h-6zM24 12h6v6h-6zM126 12h12v6h-12zM150 12h6v6h-6zM162 12h12v6h-12zM24 18h6v6h-6zM120 18h6v6h-6zM108 24h6v6h-6zM168 30h6v6h-6zM132 42h6v6h-6zM150 42h6v6h-6z"/>
<path fill="#6af98e" d="M30 -6h6v6h-6zM132 -6h6v6h-6zM150 -6h12v6h-12zM30 0h6v6h-6zM132 0h6v6h-6zM150 0h12v6h-12zM30 6h6v6h-6zM132 6h6v6h-6zM150 6h6v6h-6zM138 12h12v6h-12zM114 18h6v6h-6zM138 18h12v6h-12zM162 18h12v6h-12zM24 24h6v6h-6zM102 24h6v6h-6zM162 24h12v6h-12zM162 30h6v6h-6zM138 36h12v6h-12z"/>
<path fill="#38d8d0" d="M42 -6h6v6h-6zM138 -6h12v6h-12zM192 -6h18v6h-18zM42 0h6v6h-6zM138 0h12v6h-12zM192 0h18v6h-18zM138 6h12v6h-12zM192 6h18v6h-18zM156 12h6v6h-6zM192 12h18v6h-18zM126 18h12v6h-12zM150 18h12v6h-12zM126 24h6v6h-6zM156 24h6v6h-6zM102 30h6v6h-6zM156 30h6v6h-6zM102 36h6v6h-6zM132 36h6v6h-6zM150 36h12v6h-12zM102 42h6v6h-6zM102 48h6v6h-6zM132 48h12v6h-12zM102 54h6v6h-6zM114 66h6v6h-6zM180 66h6v6h-6zM114 72h6v6h-6z"/>
<path fill="#9ff861" d="M48 -6h6v6h-6zM48 0h6v6h-6zM48 6h6v6h-6zM36 12h6v6h-6zM96 66h6v6h-6z"/>
<path fill="#c6e442" d="M54 -6h6v6h-6zM102 -6h6v6h-6zM54 0h6v6h-6zM102 0h6v6h-6zM102 6h6v6h-6zM108 18h6v6h-6zM96 48h6v6h-6z"/>
<path fill="#f3a71d" d="M60 -6h6v6h-6zM60 0h6v6h-6zM120 6h6v6h-6zM66 42h6v6h-6zM66 48h6v6h-6zM90 54h6v6h-6zM90 60h6v6h-6z"/>
<path fill="#f86210" d="M66 -6h6v6h-6zM90 -6h6v6h-6zM114 -6h6v6h-6zM66 0h6v6h-6zM90 0h6v6h-6zM114 0h6v6h-6zM66 6h6v6h-6zM90 6h6v6h-6zM60 12h12v6h-12zM90 12h6v6h-6zM54 18h18v6h-18zM90 18h6v6h-6zM54 24h18v6h-18zM90 24h6v6h-6zM36 30h6v6h-6zM54 30h18v6h-18zM90 30h6v6h-6zM54 36h6v6h-6zM72 36h6v6h-6zM90 36h6v6h-6zM54 42h6v6h-6zM78 42h18v6h-18zM78 48h6v6h-6zM78 54h6v6h-6z"/>
<path fill="#e14208" d="M72 -6h6v6h-6zM72 0h6v6h-6zM72 6h6v6h-6zM72 12h6v6h-6zM72 18h6v6h-6zM42 24h6v6h-6zM72 24h6v6h-6zM48 30h6v6h-6zM72 30h6v6h-6zM84 30h6v6h-6zM48 36h6v6h-6zM78 36h6v6h-6z"/>
<path fill="#c22a08" d="M78 -6h6v6h-6zM78 0h6v6h-6zM78 6h6v6h-6zM78 12h6v6h-6zM78 18h6v6h-6zM78 24h6v6h-6zM42 30h6v6h-6zM78 30h6v6h-6z"/>
<path fill="#d23608" d="M84 -6h6v6h-6zM84 0h6v6h-6zM84 6h6v6h-6zM84 12h6v6h-6zM84 18h6v6h-6zM84 24h6v6h-6z"/>
<path fill="#fd8813" d="M96 -6h6v6h-6zM120 -6h6v6h-6zM96 0h6v6h-6zM120 0h6v6h-6zM60 6h6v6h-6zM96 6h6v6h-6zM48 18h6v6h-6zM36 24h6v6h-6zM66 36h6v6h-6zM60 42h6v6h-6zM90 48h6v6h-6z"/>
<path fill="#e5c227" d="M108 -6h6v6h-6zM108 0h6v6h-6zM108 6h6v6h-6zM48 12h6v6h-6zM102 12h6v6h-6zM102 18h6v6h-6zM96 24h6v6h-6z"/>
<path fill="#88fd73" d="M126 -6h6v6h-6zM126 0h6v6h-6zM126 6h6v6h-6zM30 12h6v6h-6zM120 12h6v6h-6zM30 18h6v6h-6zM30 24h6v6h-6z"/>
<path fill="#0a36cc" d="M174 -6h6v6h-6zM174 0h6v6h-6zM180 6h6v6h-6zM138 72h6v6h-6zM144 78h6v6h-6zM144 84h6v6h-6zM144 90h6v6h-6z"/>
<path fill="#0a2bb9" d="M180 -6h6v6h-6zM180 0h6v6h-6zM138 78h6v6h-6zM138 84h6v6h-6zM138 90h6v6h-6z"/>
<path fill="#1896f5" d="M186 -6h6v6h-6zM186 0h6v6h-6zM168 6h6v6h-6zM174 12h6v6h-6zM12 18h6v6h-6zM180 18h6v6h-6zM174 24h6v6h-6zM186 24h6v6h-6zM114 30h6v6h-6zM192 30h18v6h-18zM114 36h6v6h-6zM192 36h12v6h-12zM114 42h6v6h-6zM168 42h6v6h-6zM192 42h12v6h-12zM114 48h6v6h-6zM186 48h18v6h-18zM114 54h6v6h-6zM138 54h24v6h-24zM180 54h24v6h-24zM150 60h12v6h-12zM174 60h6v6h-6zM192 60h6v6h-6zM102 66h6v6h-6zM126 66h6v6h-6zM156 66h6v6h-6zM192 66h6v6h-6zM156 72h18v6h-18zM192 72h6v6h-6zM156 78h6v6h-6zM180 78h12v6h-12zM156 84h6v6h-6zM180 84h12v6h-12zM156 90h6v6h-6zM180 90h6v6h-6zM156 96h6v6h-6zM180 96h6v6h-6z"/>
<path fill="#d6da32" d="M54 6h6v6h-6zM108 12h6v6h-6zM42 18h6v6h-6zM96 30h6v6h-6zM96 36h6v6h-6zM96 42h6v6h-6z"/>
<path fill="#fc7310" d="M114 6h6v6h-6zM54 12h6v6h-6zM96 12h6v6h-6zM96 18h6v6h-6zM60 36h6v6h-6zM72 42h6v6h-6zM72 48h6v6h-6zM84 48h6v6h-6zM84 54h6v6h-6z"/>
<path fill="#25b8e4" d="M162 6h6v6h-6zM186 12h6v6h-6zM186 18h6v6h-6zM114 24h12v6h-12zM138 24h12v6h-12zM162 36h12v6h-12zM150 48h6v6h-6zM108 54h6v6h-6zM102 60h30v6h-30zM180 60h6v6h-6zM174 66h6v6h-6zM120 72h6v6h-6zM180 72h6v6h-6zM120 78h6v6h-6z"/>
<path fill="#b4ee51" d="M42 12h6v6h-6zM114 12h6v6h-6zM36 18h6v6h-6zM138 42h12v6h-12zM96 54h6v6h-6zM96 60h6v6h-6z"/>
<path fill="#2dc8db" d="M192 18h18v6h-18zM132 24h6v6h-6zM150 24h6v6h-6zM108 30h6v6h-6zM126 30h12v6h-12zM150 30h6v6h-6zM108 36h6v6h-6zM126 36h6v6h-6zM108 42h6v6h-6zM126 42h6v6h-6zM156 42h6v6h-6zM108 48h6v6h-6zM126 48h6v6h-6zM144 48h6v6h-6zM126 54h12v6h-12zM120 66h6v6h-6zM162 78h12v6h-12zM162 84h12v6h-12zM162 90h12v6h-12zM162 96h12v6h-12zM162 102h12v6h-12z"/>
<path fill="#ed520c" d="M48 24h6v6h-6zM84 36h6v6h-6z"/>
<path fill="#0f74f7" d="M174 36h6v6h-6zM162 48h18v6h-18zM138 60h12v6h-12z"/>
</g><use href="#net"/></g><use href="#out"/></g>
<g transform="translate(336.9 364.3)"><g clip-path="url(#sec)"><g filter="url(#bl)">
<path fill="#0a23a3" d="M-6 -6h12v6h-12zM-6 0h12v6h-12zM-6 6h12v6h-12z"/>
<path fill="#0a2bb9" d="M6 -6h6v6h-6zM48 -6h12v6h-12zM6 0h6v6h-6zM48 0h12v6h-12zM6 6h6v6h-6zM6 12h6v6h-6z"/>
<path fill="#0c4ada" d="M12 -6h12v6h-12zM42 -6h6v6h-6zM12 0h12v6h-12zM42 0h6v6h-6zM12 6h12v6h-12zM12 12h12v6h-12zM12 18h6v6h-6z"/>
<path fill="#1286fc" d="M24 -6h6v6h-6zM60 -6h6v6h-6zM24 0h6v6h-6zM60 0h6v6h-6zM24 6h6v6h-6zM24 12h6v6h-6zM36 12h12v6h-12zM24 18h6v6h-6z"/>
<path fill="#1896f5" d="M30 -6h6v6h-6zM30 0h6v6h-6zM30 6h6v6h-6zM60 6h6v6h-6zM30 12h6v6h-6zM30 18h18v6h-18zM24 24h12v6h-12z"/>
<path fill="#0e5fe8" d="M36 -6h6v6h-6zM36 0h6v6h-6zM42 6h6v6h-6zM18 18h6v6h-6z"/>
<path fill="#38d8d0" d="M66 -6h6v6h-6zM66 0h6v6h-6zM66 6h6v6h-6zM66 12h6v6h-6zM54 18h18v6h-18zM42 30h6v6h-6zM78 42h6v6h-6zM78 48h6v6h-6zM78 54h6v6h-6zM138 66h6v6h-6z"/>
<path fill="#88fd73" d="M72 -6h6v6h-6zM102 -6h6v6h-6zM72 0h6v6h-6zM102 0h6v6h-6zM72 6h6v6h-6zM102 6h6v6h-6zM72 12h6v6h-6zM72 18h6v6h-6zM156 18h6v6h-6zM60 24h6v6h-6zM54 30h6v6h-6zM54 36h12v6h-12zM72 36h6v6h-6zM54 42h12v6h-12zM138 60h12v6h-12z"/>
<path fill="#c6e442" d="M78 -6h18v6h-18zM126 -6h30v6h-30zM180 -6h30v6h-30zM78 0h18v6h-18zM126 0h30v6h-30zM180 0h30v6h-30zM78 6h18v6h-18zM138 6h24v6h-24zM180 6h6v6h-6zM78 12h6v6h-6zM120 12h6v6h-6zM162 12h6v6h-6zM78 18h6v6h-6zM102 18h6v6h-6zM168 18h6v6h-6zM78 24h6v6h-6zM108 24h6v6h-6zM144 24h6v6h-6zM162 24h12v6h-12zM66 30h18v6h-18zM108 30h6v6h-6zM126 30h48v6h-48zM138 36h24v6h-24zM90 42h6v6h-6zM114 42h6v6h-6zM138 42h24v6h-24zM90 48h6v6h-6zM144 48h6v6h-6zM90 54h6v6h-6zM144 54h6v6h-6zM90 60h6v6h-6zM150 60h6v6h-6zM126 66h6v6h-6zM126 72h12v6h-12zM126 78h6v6h-6zM126 84h6v6h-6z"/>
<path fill="#b4ee51" d="M96 -6h6v6h-6zM108 -6h6v6h-6zM96 0h6v6h-6zM108 0h6v6h-6zM96 6h6v6h-6zM108 6h6v6h-6zM102 12h12v6h-12zM108 18h6v6h-6zM120 18h6v6h-6zM162 18h6v6h-6zM72 24h6v6h-6zM150 24h12v6h-12zM120 36h6v6h-6zM132 66h6v6h-6zM150 66h6v6h-6zM138 72h12v6h-12z"/>
<path fill="#f3a71d" d="M114 -6h6v6h-6zM114 0h6v6h-6zM138 12h6v6h-6zM90 18h6v6h-6zM138 18h6v6h-6zM180 18h6v6h-6zM180 24h6v6h-6zM102 30h6v6h-6zM180 30h6v6h-6zM102 36h6v6h-6zM102 42h6v6h-6zM126 42h6v6h-6zM168 42h6v6h-6zM102 48h6v6h-6zM162 48h12v6h-12zM102 54h6v6h-6zM156 54h18v6h-18zM126 60h6v6h-6zM156 72h6v6h-6zM138 78h6v6h-6zM180 78h12v6h-12zM138 84h12v6h-12zM174 84h18v6h-18zM138 90h48v6h-48zM150 96h36v6h-36zM162 102h18v6h-18z"/>
<path fill="#e5c227" d="M120 -6h6v6h-6zM174 -6h6v6h-6zM120 0h6v6h-6zM174 0h6v6h-6zM114 6h12v6h-12zM174 6h6v6h-6zM90 12h6v6h-6zM174 12h12v6h-12zM96 18h6v6h-6zM144 18h6v6h-6zM174 18h6v6h-6zM84 24h6v6h-6zM102 24h6v6h-6zM174 24h6v6h-6zM84 30h6v6h-6zM174 30h6v6h-6zM90 36h12v6h-12zM126 36h12v6h-12zM162 36h12v6h-12zM108 42h6v6h-6zM132 42h6v6h-6zM162 42h6v6h-6zM150 48h12v6h-12zM150 54h6v6h-6zM96 60h6v6h-6zM156 60h6v6h-6zM96 66h6v6h-6zM150 72h6v6h-6z"/>
<path fill="#d6da32" d="M156 -6h6v6h-6zM156 0h6v6h-6zM126 6h12v6h-12zM186 6h24v6h-24zM84 12h6v6h-6zM96 12h6v6h-6zM144 12h6v6h-6zM168 12h6v6h-6zM84 18h6v6h-6zM126 24h18v6h-18zM108 36h6v6h-6zM96 42h6v6h-6zM120 42h6v6h-6zM96 48h6v6h-6zM138 48h6v6h-6zM96 54h6v6h-6zM138 54h6v6h-6zM132 60h6v6h-6zM156 66h6v6h-6zM132 78h6v6h-6zM132 84h6v6h-6z"/>
<path fill="#fc7310" d="M162 -6h6v6h-6zM162 0h6v6h-6zM168 6h6v6h-6zM192 12h18v6h-18zM126 18h12v6h-12zM186 18h6v6h-6zM90 24h6v6h-6zM186 24h6v6h-6zM96 30h6v6h-6zM186 30h6v6h-6zM180 36h6v6h-6zM174 42h6v6h-6zM126 48h6v6h-6zM174 48h6v6h-6zM108 54h6v6h-6zM132 54h6v6h-6zM174 54h6v6h-6zM102 60h6v6h-6zM168 60h6v6h-6zM120 66h6v6h-6zM162 66h6v6h-6zM120 72h6v6h-6zM174 72h24v6h-24zM120 78h6v6h-6zM150 84h24v6h-24z"/>
<path fill="#f86210" d="M168 -6h6v6h-6zM168 0h6v6h-6zM192 18h18v6h-18zM192 24h18v6h-18zM90 30h6v6h-6zM192 30h18v6h-18zM186 36h18v6h-18zM180 42h24v6h-24zM114 48h12v6h-12zM180 48h24v6h-24zM180 54h24v6h-24zM108 60h6v6h-6zM174 60h24v6h-24zM102 66h18v6h-18zM168 66h30v6h-30zM108 72h12v6h-12zM162 72h12v6h-12zM150 78h24v6h-24z"/>
<path fill="#0f74f7" d="M36 6h6v6h-6z"/>
<path fill="#0a36cc" d="M48 6h12v6h-12z"/>
<path fill="#fd8813" d="M162 6h6v6h-6zM126 12h12v6h-12zM186 12h6v6h-6zM96 24h6v6h-6zM174 36h6v6h-6zM108 48h6v6h-6zM132 48h6v6h-6zM162 60h6v6h-6zM144 78h6v6h-6zM174 78h6v6h-6z"/>
<path fill="#1fa7ed" d="M48 12h6v6h-6z"/>
<path fill="#25b8e4" d="M54 12h6v6h-6zM36 24h6v6h-6z"/>
<path fill="#2dc8db" d="M60 12h6v6h-6zM48 18h6v6h-6zM42 24h6v6h-6zM36 30h6v6h-6z"/>
<path fill="#9ff861" d="M114 12h6v6h-6zM150 12h12v6h-12zM150 18h6v6h-6zM66 24h6v6h-6zM60 30h6v6h-6zM66 36h6v6h-6zM84 36h6v6h-6zM114 36h6v6h-6z"/>
<path fill="#6af98e" d="M114 18h6v6h-6zM54 24h6v6h-6zM120 24h6v6h-6zM120 30h6v6h-6zM78 36h6v6h-6zM66 42h6v6h-6zM84 42h6v6h-6zM66 48h6v6h-6zM84 48h6v6h-6zM84 54h6v6h-6z"/>
<path fill="#4bebb0" d="M48 24h6v6h-6zM114 24h6v6h-6zM48 30h6v6h-6zM114 30h6v6h-6zM48 36h6v6h-6zM72 42h6v6h-6zM72 48h6v6h-6zM144 66h6v6h-6z"/>
<path fill="#c22a08" d="M114 54h6v6h-6z"/>
<path fill="#d23608" d="M120 54h6v6h-6z"/>
<path fill="#ed520c" d="M126 54h6v6h-6zM120 60h6v6h-6z"/>
<path fill="#e14208" d="M114 60h6v6h-6z"/>
</g><use href="#net"/></g><use href="#out"/></g>
<g transform="translate(572.9 364.3)"><g clip-path="url(#sec)"><g filter="url(#bl)">
<path fill="#0a23a3" d="M-6 -6h12v6h-12zM-6 0h12v6h-12zM-6 6h12v6h-12z"/>
<path fill="#0a2bb9" d="M6 -6h6v6h-6zM6 0h6v6h-6zM6 6h6v6h-6zM6 12h6v6h-6z"/>
<path fill="#0c4ada" d="M12 -6h60v6h-60zM102 -6h6v6h-6zM126 -6h6v6h-6zM12 0h60v6h-60zM102 0h6v6h-6zM126 0h6v6h-6zM12 6h42v6h-42zM60 6h12v6h-12zM12 12h36v6h-36zM66 12h6v6h-6zM12 18h36v6h-36zM66 18h6v6h-6zM24 24h24v6h-24zM66 24h6v6h-6zM36 30h48v6h-48zM48 36h24v6h-24zM54 42h18v6h-18zM66 48h6v6h-6zM90 54h6v6h-6zM90 60h6v6h-6z"/>
<path fill="#0f74f7" d="M72 -6h6v6h-6zM72 0h6v6h-6zM72 6h6v6h-6zM108 6h6v6h-6zM48 12h6v6h-6zM72 12h6v6h-6zM48 18h6v6h-6zM60 18h6v6h-6zM72 18h6v6h-6zM72 42h6v6h-6zM72 48h6v6h-6zM90 48h6v6h-6zM84 54h6v6h-6zM96 54h6v6h-6zM96 60h6v6h-6zM96 66h6v6h-6z"/>
<path fill="#1896f5" d="M78 -6h18v6h-18zM114 -6h6v6h-6zM138 -6h6v6h-6zM78 0h18v6h-18zM114 0h6v6h-6zM138 0h6v6h-6zM78 6h18v6h-18zM114 6h6v6h-6zM138 6h6v6h-6zM78 12h24v6h-24zM114 12h12v6h-12zM132 12h6v6h-6zM54 18h6v6h-6zM78 18h54v6h-54zM84 24h6v6h-6zM114 24h6v6h-6zM114 30h6v6h-6zM84 36h6v6h-6zM78 42h18v6h-18zM78 48h6v6h-6zM78 54h6v6h-6zM102 54h18v6h-18zM102 60h6v6h-6zM102 66h6v6h-6z"/>
<path fill="#1286fc" d="M96 -6h6v6h-6zM120 -6h6v6h-6zM96 0h6v6h-6zM120 0h6v6h-6zM96 6h6v6h-6zM120 6h6v6h-6zM54 12h6v6h-6zM102 12h12v6h-12zM126 12h6v6h-6zM84 30h6v6h-6zM78 36h6v6h-6zM84 48h6v6h-6zM96 48h6v6h-6z"/>
<path fill="#0e5fe8" d="M108 -6h6v6h-6zM132 -6h6v6h-6zM108 0h6v6h-6zM132 0h6v6h-6zM54 6h6v6h-6zM102 6h6v6h-6zM126 6h12v6h-12zM60 12h6v6h-6zM48 24h18v6h-18zM72 24h12v6h-12zM72 36h6v6h-6z"/>
<path fill="#1fa7ed" d="M144 -6h6v6h-6zM144 0h6v6h-6zM144 6h6v6h-6zM132 18h6v6h-6zM120 24h6v6h-6zM120 30h6v6h-6zM90 36h6v6h-6zM96 42h6v6h-6zM102 48h18v6h-18zM120 54h6v6h-6zM108 60h6v6h-6zM108 66h6v6h-6zM108 72h6v6h-6z"/>
<path fill="#2dc8db" d="M150 -6h6v6h-6zM150 0h6v6h-6zM150 6h6v6h-6zM144 12h6v6h-6zM138 18h6v6h-6zM90 24h18v6h-18zM132 24h6v6h-6zM90 30h6v6h-6zM108 30h6v6h-6zM126 30h6v6h-6zM108 36h18v6h-18zM126 54h6v6h-6zM120 60h6v6h-6z"/>
<path fill="#38d8d0" d="M156 -6h6v6h-6zM156 0h6v6h-6zM144 18h6v6h-6zM138 24h12v6h-12zM96 30h12v6h-12zM132 30h18v6h-18zM102 36h6v6h-6zM126 36h12v6h-12zM102 42h36v6h-36zM126 48h12v6h-12zM132 54h6v6h-6zM114 66h12v6h-12zM114 72h6v6h-6z"/>
<path fill="#b4ee51" d="M162 -6h6v6h-6zM162 0h6v6h-6zM162 6h6v6h-6zM156 36h6v6h-6zM150 42h6v6h-6zM150 48h6v6h-6zM150 54h6v6h-6zM144 60h6v6h-6zM138 66h6v6h-6zM132 72h6v6h-6zM126 78h6v6h-6z"/>
<path fill="#c6e442" d="M168 -6h6v6h-6zM168 0h6v6h-6zM156 42h6v6h-6zM156 48h6v6h-6zM156 54h6v6h-6zM150 60h6v6h-6zM144 66h12v6h-12zM138 72h12v6h-12zM132 78h18v6h-18zM126 84h24v6h-24zM138 90h12v6h-12z"/>
<path fill="#fc7310" d="M174 -6h6v6h-6zM174 0h6v6h-6zM174 6h6v6h-6zM174 12h6v6h-6zM174 18h6v6h-6zM174 24h6v6h-6zM174 30h6v6h-6zM174 36h6v6h-6zM174 42h6v6h-6zM174 48h6v6h-6zM174 54h6v6h-6zM168 60h6v6h-6zM162 66h6v6h-6zM162 72h6v6h-6z"/>
<path fill="#f86210" d="M180 -6h30v6h-30zM180 0h30v6h-30zM180 6h30v6h-30zM180 12h30v6h-30zM180 18h6v6h-6zM180 24h6v6h-6zM180 30h6v6h-6zM180 36h6v6h-6zM180 42h6v6h-6zM180 48h6v6h-6zM162 78h6v6h-6z"/>
<path fill="#4bebb0" d="M156 6h6v6h-6zM150 12h6v6h-6zM138 36h6v6h-6zM126 60h6v6h-6zM120 72h6v6h-6zM120 78h6v6h-6z"/>
<path fill="#d6da32" d="M168 6h6v6h-6zM162 12h6v6h-6zM156 60h6v6h-6zM156 66h6v6h-6zM150 72h6v6h-6z"/>
<path fill="#25b8e4" d="M138 12h6v6h-6zM108 24h6v6h-6zM126 24h6v6h-6zM96 36h6v6h-6zM120 48h6v6h-6zM114 60h6v6h-6z"/>
<path fill="#88fd73" d="M156 12h6v6h-6zM156 18h6v6h-6zM156 24h6v6h-6zM156 30h6v6h-6zM144 42h6v6h-6zM144 48h6v6h-6zM144 54h6v6h-6zM132 66h6v6h-6z"/>
<path fill="#f3a71d" d="M168 12h6v6h-6zM168 18h6v6h-6zM168 24h6v6h-6zM168 30h6v6h-6zM168 36h6v6h-6zM168 42h6v6h-6zM168 48h6v6h-6zM168 54h6v6h-6zM156 78h6v6h-6z"/>
<path fill="#6af98e" d="M150 18h6v6h-6zM150 24h6v6h-6zM150 30h6v6h-6zM144 36h6v6h-6zM138 42h6v6h-6zM138 48h6v6h-6zM138 54h6v6h-6zM132 60h6v6h-6zM126 66h6v6h-6z"/>
<path fill="#e5c227" d="M162 18h6v6h-6zM162 24h6v6h-6zM162 30h6v6h-6zM162 36h6v6h-6zM162 42h6v6h-6zM162 48h6v6h-6zM162 54h6v6h-6zM156 72h6v6h-6zM150 78h6v6h-6zM150 84h6v6h-6zM150 90h6v6h-6zM150 96h6v6h-6z"/>
<path fill="#ed520c" d="M186 18h24v6h-24zM180 54h6v6h-6zM168 66h6v6h-6zM168 72h6v6h-6zM168 78h6v6h-6zM162 84h6v6h-6z"/>
<path fill="#e14208" d="M186 24h6v6h-6zM174 60h6v6h-6zM168 84h6v6h-6z"/>
<path fill="#d23608" d="M192 24h18v6h-18zM186 30h6v6h-6zM186 36h6v6h-6zM186 42h6v6h-6zM186 48h6v6h-6zM186 54h6v6h-6zM180 60h6v6h-6zM174 66h6v6h-6zM174 72h6v6h-6zM174 78h6v6h-6zM162 90h6v6h-6zM162 96h6v6h-6zM162 102h6v6h-6z"/>
<path fill="#c22a08" d="M192 30h18v6h-18zM192 36h12v6h-12zM192 42h12v6h-12zM192 48h12v6h-12zM192 54h12v6h-12zM186 60h12v6h-12zM180 66h18v6h-18zM180 72h18v6h-18zM180 78h12v6h-12zM174 84h18v6h-18zM168 90h18v6h-18zM168 96h18v6h-18zM168 102h12v6h-12z"/>
<path fill="#9ff861" d="M150 36h6v6h-6zM138 60h6v6h-6zM126 72h6v6h-6z"/>
<path fill="#fd8813" d="M162 60h6v6h-6zM156 84h6v6h-6zM156 90h6v6h-6zM156 96h6v6h-6z"/>
</g><use href="#net"/></g><use href="#out"/></g>
<g transform="translate(808.9 364.3)"><g clip-path="url(#sec)"><g filter="url(#bl)">
<path fill="#0c4ada" d="M-6 -6h30v6h-30zM42 -6h30v6h-30zM90 -6h18v6h-18zM-6 0h30v6h-30zM42 0h30v6h-30zM90 0h18v6h-18zM-6 6h30v6h-30zM42 6h30v6h-30zM90 6h18v6h-18zM6 12h18v6h-18zM36 12h72v6h-72zM12 18h96v6h-96zM24 24h72v6h-72zM36 30h60v6h-60zM48 36h48v6h-48zM54 42h42v6h-42zM66 48h30v6h-30zM78 54h18v6h-18zM90 60h6v6h-6z"/>
<path fill="#1286fc" d="M24 -6h6v6h-6zM24 0h6v6h-6zM24 6h12v6h-12zM102 24h12v6h-12zM96 66h6v6h-6z"/>
<path fill="#1896f5" d="M30 -6h6v6h-6zM114 -6h6v6h-6zM30 0h6v6h-6zM114 0h6v6h-6zM114 6h6v6h-6zM114 12h6v6h-6zM114 18h6v6h-6zM114 24h6v6h-6zM102 30h18v6h-18zM102 36h6v6h-6zM102 42h6v6h-6zM102 48h6v6h-6zM102 54h6v6h-6z"/>
<path fill="#0e5fe8" d="M36 -6h6v6h-6zM108 -6h6v6h-6zM36 0h6v6h-6zM108 0h6v6h-6zM36 6h6v6h-6zM108 6h6v6h-6zM24 12h12v6h-12zM108 12h6v6h-6zM96 24h6v6h-6z"/>
<path fill="#0a36cc" d="M72 -6h6v6h-6zM84 -6h6v6h-6zM72 0h6v6h-6zM84 0h6v6h-6zM72 6h6v6h-6zM84 6h6v6h-6z"/>
<path fill="#0a23a3" d="M78 -6h6v6h-6zM78 0h6v6h-6z"/>
<path fill="#1fa7ed" d="M120 -6h6v6h-6zM120 0h6v6h-6zM120 6h6v6h-6zM120 12h6v6h-6zM120 18h6v6h-6zM120 24h6v6h-6zM120 30h6v6h-6zM108 36h6v6h-6zM108 42h6v6h-6zM108 48h6v6h-6zM108 54h6v6h-6z"/>
<path fill="#2dc8db" d="M126 -6h6v6h-6zM126 0h6v6h-6zM126 6h6v6h-6zM126 12h6v6h-6zM126 18h6v6h-6zM126 24h6v6h-6zM120 36h6v6h-6zM108 60h6v6h-6zM102 66h6v6h-6z"/>
<path fill="#38d8d0" d="M132 -6h6v6h-6zM132 0h6v6h-6zM132 6h6v6h-6zM132 12h6v6h-6zM132 18h6v6h-6zM132 24h6v6h-6zM126 30h12v6h-12zM114 42h12v6h-12zM114 48h12v6h-12zM114 54h12v6h-12z"/>
<path fill="#6af98e" d="M138 -6h6v6h-6zM138 0h6v6h-6zM138 6h6v6h-6zM138 12h6v6h-6zM138 18h6v6h-6zM138 24h6v6h-6zM138 30h6v6h-6zM132 36h12v6h-12zM126 42h6v6h-6zM126 48h6v6h-6zM126 54h6v6h-6zM114 66h6v6h-6zM114 72h6v6h-6z"/>
<path fill="#9ff861" d="M144 -6h6v6h-6zM162 -6h6v6h-6zM144 0h6v6h-6zM162 0h6v6h-6zM144 6h6v6h-6zM162 6h6v6h-6zM156 24h6v6h-6zM150 36h6v6h-6zM138 48h6v6h-6zM120 66h6v6h-6zM120 72h6v6h-6zM120 78h6v6h-6z"/>
<path fill="#e5c227" d="M150 -6h12v6h-12zM150 0h12v6h-12zM150 6h12v6h-12zM174 12h6v6h-6zM174 18h6v6h-6zM156 48h6v6h-6zM126 66h6v6h-6zM126 72h6v6h-6zM126 78h6v6h-6z"/>
<path fill="#88fd73" d="M168 -6h6v6h-6zM168 0h6v6h-6zM168 6h6v6h-6zM144 12h6v6h-6zM162 12h12v6h-12zM144 18h6v6h-6zM162 18h12v6h-12zM144 24h12v6h-12zM144 30h18v6h-18zM144 36h6v6h-6zM132 42h18v6h-18zM132 48h6v6h-6zM132 54h6v6h-6zM120 60h6v6h-6z"/>
<path fill="#fd8813" d="M174 -6h6v6h-6zM174 0h6v6h-6zM180 12h6v6h-6zM174 24h6v6h-6zM144 60h6v6h-6zM132 66h6v6h-6zM132 72h6v6h-6zM132 78h6v6h-6zM132 84h6v6h-6z"/>
<path fill="#f86210" d="M180 -6h6v6h-6zM180 0h6v6h-6zM180 6h6v6h-6zM186 12h6v6h-6zM186 18h6v6h-6zM180 24h6v6h-6zM192 42h12v6h-12zM168 48h6v6h-6zM192 48h12v6h-12zM162 54h42v6h-42zM162 60h12v6h-12zM192 60h6v6h-6zM138 66h30v6h-30zM192 66h6v6h-6zM138 72h18v6h-18zM138 78h18v6h-18zM138 84h18v6h-18zM138 90h18v6h-18zM150 96h6v6h-6z"/>
<path fill="#d23608" d="M186 -6h6v6h-6zM186 0h6v6h-6zM186 6h6v6h-6zM192 24h18v6h-18zM186 30h6v6h-6zM180 36h6v6h-6zM174 42h6v6h-6zM174 66h6v6h-6zM168 72h6v6h-6zM186 72h6v6h-6z"/>
<path fill="#c22a08" d="M192 -6h18v6h-18zM192 0h18v6h-18zM192 6h18v6h-18zM192 30h18v6h-18zM180 42h6v6h-6zM180 66h6v6h-6zM174 72h12v6h-12zM162 78h30v6h-30zM162 84h30v6h-30zM162 90h24v6h-24zM162 96h24v6h-24zM162 102h18v6h-18z"/>
<path fill="#0a2bb9" d="M78 6h6v6h-6z"/>
<path fill="#f3a71d" d="M174 6h6v6h-6zM180 18h6v6h-6zM162 36h6v6h-6zM150 54h12v6h-12zM138 60h6v6h-6zM126 84h6v6h-6z"/>
<path fill="#c6e442" d="M150 12h12v6h-12zM168 24h6v6h-6zM138 54h12v6h-12zM126 60h6v6h-6z"/>
<path fill="#ed520c" d="M192 12h18v6h-18zM192 18h18v6h-18zM180 30h6v6h-6zM168 42h6v6h-6zM174 48h6v6h-6zM186 48h6v6h-6zM186 60h6v6h-6zM168 66h6v6h-6zM156 72h6v6h-6zM156 78h6v6h-6zM156 84h6v6h-6zM156 90h6v6h-6zM156 96h6v6h-6z"/>
<path fill="#0f74f7" d="M108 18h6v6h-6zM96 30h6v6h-6zM96 36h6v6h-6zM96 42h6v6h-6zM96 48h6v6h-6zM96 54h6v6h-6zM96 60h6v6h-6z"/>
<path fill="#b4ee51" d="M150 18h12v6h-12zM162 24h6v6h-6zM162 30h6v6h-6zM156 36h6v6h-6zM150 42h6v6h-6zM144 48h6v6h-6z"/>
<path fill="#e14208" d="M186 24h6v6h-6zM174 36h6v6h-6zM186 36h18v6h-18zM186 42h6v6h-6zM180 48h6v6h-6zM174 60h12v6h-12zM186 66h6v6h-6zM162 72h6v6h-6zM192 72h6v6h-6z"/>
<path fill="#d6da32" d="M168 30h6v6h-6zM156 42h6v6h-6zM150 48h6v6h-6zM132 60h6v6h-6z"/>
<path fill="#fc7310" d="M174 30h6v6h-6zM168 36h6v6h-6zM162 42h6v6h-6zM162 48h6v6h-6zM150 60h12v6h-12z"/>
<path fill="#25b8e4" d="M114 36h6v6h-6zM102 60h6v6h-6z"/>
<path fill="#4bebb0" d="M126 36h6v6h-6zM114 60h6v6h-6zM108 66h6v6h-6zM108 72h6v6h-6z"/>
</g><use href="#net"/></g><use href="#out"/></g>
<g transform="translate(100.9 496.3)"><g clip-path="url(#sec)"><g filter="url(#bl)">
<path fill="#0a23a3" d="M-6 -6h12v6h-12zM-6 0h12v6h-12zM-6 6h12v6h-12z"/>
<path fill="#0a36cc" d="M6 -6h6v6h-6zM6 0h6v6h-6zM6 6h6v6h-6zM6 12h6v6h-6z"/>
<path fill="#25b8e4" d="M12 -6h6v6h-6zM12 0h6v6h-6zM12 6h6v6h-6zM24 6h18v6h-18zM12 12h6v6h-6zM36 12h6v6h-6zM12 18h6v6h-6zM36 18h6v6h-6zM42 24h12v6h-12zM60 30h6v6h-6zM174 30h6v6h-6z"/>
<path fill="#2dc8db" d="M18 -6h6v6h-6zM36 -6h6v6h-6zM18 0h6v6h-6zM36 0h6v6h-6zM42 6h6v6h-6zM180 6h6v6h-6zM54 24h18v6h-18zM60 36h12v6h-12zM192 36h12v6h-12z"/>
<path fill="#1fa7ed" d="M24 -6h6v6h-6zM48 -6h6v6h-6zM24 0h6v6h-6zM48 0h6v6h-6zM48 6h6v6h-6zM174 12h6v6h-6zM192 12h18v6h-18zM174 24h6v6h-6z"/>
<path fill="#1896f5" d="M30 -6h6v6h-6zM54 -6h6v6h-6zM30 0h6v6h-6zM54 0h6v6h-6zM54 6h6v6h-6zM54 12h6v6h-6zM186 12h6v6h-6zM54 18h6v6h-6zM174 18h6v6h-6zM192 18h18v6h-18zM66 30h6v6h-6zM180 30h6v6h-6z"/>
<path fill="#38d8d0" d="M42 -6h6v6h-6zM174 -6h12v6h-12zM42 0h6v6h-6zM174 0h12v6h-12zM18 6h6v6h-6zM174 6h6v6h-6zM18 12h6v6h-6zM42 30h18v6h-18zM48 36h12v6h-12zM186 36h6v6h-6zM54 42h18v6h-18zM66 48h6v6h-6z"/>
<path fill="#88fd73" d="M60 -6h6v6h-6zM156 -6h12v6h-12zM192 -6h18v6h-18zM60 0h6v6h-6zM156 0h12v6h-12zM192 0h18v6h-18zM60 6h6v6h-6zM162 6h12v6h-12zM60 12h6v6h-6zM60 18h6v6h-6zM138 18h6v6h-6zM168 24h6v6h-6zM36 30h6v6h-6zM180 36h6v6h-6zM138 42h6v6h-6zM192 42h12v6h-12zM192 48h12v6h-12zM78 54h6v6h-6zM192 54h12v6h-12zM192 60h6v6h-6zM192 66h6v6h-6z"/>
<path fill="#f3a71d" d="M66 -6h18v6h-18zM138 -6h6v6h-6zM66 0h18v6h-18zM138 0h6v6h-6zM66 6h12v6h-12zM66 12h6v6h-6zM150 12h6v6h-6zM114 18h12v6h-12zM102 30h6v6h-6zM84 36h6v6h-6zM108 36h6v6h-6zM150 36h6v6h-6zM162 36h12v6h-12zM156 42h6v6h-6zM96 48h6v6h-6zM108 48h6v6h-6zM156 48h6v6h-6zM126 54h6v6h-6zM150 54h12v6h-12zM102 66h6v6h-6zM126 72h18v6h-18zM174 72h6v6h-6zM180 78h12v6h-12zM174 84h18v6h-18zM168 90h18v6h-18zM168 96h18v6h-18zM168 102h12v6h-12z"/>
<path fill="#fd8813" d="M84 -6h6v6h-6zM108 -6h6v6h-6zM84 0h6v6h-6zM108 0h6v6h-6zM78 6h6v6h-6zM108 6h6v6h-6zM96 12h6v6h-6zM156 12h6v6h-6zM96 18h6v6h-6zM108 24h6v6h-6zM156 36h6v6h-6zM96 42h6v6h-6zM120 42h6v6h-6zM102 48h6v6h-6zM108 54h6v6h-6zM102 60h24v6h-24zM132 60h6v6h-6zM150 60h6v6h-6zM108 66h6v6h-6zM108 72h6v6h-6zM144 72h6v6h-6zM174 78h6v6h-6zM150 84h12v6h-12z"/>
<path fill="#f86210" d="M90 -6h18v6h-18zM90 0h18v6h-18zM90 6h12v6h-12zM72 12h6v6h-6zM90 12h6v6h-6zM72 18h6v6h-6zM120 24h6v6h-6zM78 30h6v6h-6zM120 36h6v6h-6zM90 42h6v6h-6zM114 42h6v6h-6zM162 42h12v6h-12zM162 48h12v6h-12zM102 54h6v6h-6zM162 54h12v6h-12zM162 60h12v6h-12zM114 66h18v6h-18zM156 66h18v6h-18zM114 72h6v6h-6zM150 72h24v6h-24zM144 78h30v6h-30zM144 84h6v6h-6z"/>
<path fill="#c6e442" d="M114 -6h18v6h-18zM114 0h18v6h-18zM120 6h18v6h-18zM30 12h6v6h-6zM126 12h6v6h-6zM162 12h6v6h-6zM102 18h6v6h-6zM126 18h6v6h-6zM72 24h6v6h-6zM132 24h6v6h-6zM144 24h6v6h-6zM132 30h12v6h-12zM78 36h6v6h-6zM102 42h6v6h-6zM180 42h6v6h-6zM180 48h6v6h-6zM90 54h6v6h-6zM114 54h6v6h-6zM138 54h12v6h-12zM180 54h6v6h-6zM90 60h6v6h-6zM180 60h6v6h-6zM180 66h6v6h-6zM186 72h12v6h-12zM126 78h6v6h-6zM126 84h6v6h-6zM156 90h6v6h-6zM156 96h6v6h-6z"/>
<path fill="#d6da32" d="M132 -6h6v6h-6zM132 0h6v6h-6zM114 6h6v6h-6zM144 6h6v6h-6zM102 12h6v6h-6zM24 18h6v6h-6zM108 18h6v6h-6zM162 18h6v6h-6zM126 24h6v6h-6zM126 30h6v6h-6zM144 30h6v6h-6zM102 36h6v6h-6zM126 36h6v6h-6zM84 42h6v6h-6zM126 42h6v6h-6zM132 48h6v6h-6zM120 54h6v6h-6zM138 60h12v6h-12zM96 66h6v6h-6zM138 66h12v6h-12zM180 72h6v6h-6zM132 78h6v6h-6zM132 84h6v6h-6zM150 90h6v6h-6zM150 96h6v6h-6z"/>
<path fill="#e5c227" d="M144 -6h6v6h-6zM144 0h6v6h-6zM138 6h6v6h-6zM108 12h18v6h-18zM30 18h6v6h-6zM66 18h6v6h-6zM24 24h12v6h-12zM102 24h6v6h-6zM108 42h6v6h-6zM150 42h6v6h-6zM174 42h6v6h-6zM90 48h6v6h-6zM114 48h18v6h-18zM150 48h6v6h-6zM174 48h6v6h-6zM96 54h6v6h-6zM132 54h6v6h-6zM174 54h6v6h-6zM96 60h6v6h-6zM174 60h6v6h-6zM174 66h6v6h-6zM162 90h6v6h-6zM162 96h6v6h-6zM162 102h6v6h-6z"/>
<path fill="#9ff861" d="M150 -6h6v6h-6zM150 0h6v6h-6zM150 6h12v6h-12zM24 12h6v6h-6zM138 12h6v6h-6zM168 12h6v6h-6zM144 18h6v6h-6zM168 18h6v6h-6zM72 30h6v6h-6zM138 36h6v6h-6zM174 36h6v6h-6zM144 42h6v6h-6zM186 42h6v6h-6zM186 48h6v6h-6zM84 54h6v6h-6zM186 54h6v6h-6zM186 60h6v6h-6zM186 66h6v6h-6z"/>
<path fill="#6af98e" d="M168 -6h6v6h-6zM186 -6h6v6h-6zM168 0h6v6h-6zM186 0h6v6h-6zM192 6h18v6h-18zM168 30h6v6h-6zM72 36h6v6h-6zM78 42h6v6h-6zM78 48h6v6h-6z"/>
<path fill="#fc7310" d="M84 6h6v6h-6zM102 6h6v6h-6zM150 18h12v6h-12zM150 24h12v6h-12zM108 30h6v6h-6zM150 30h12v6h-12zM96 36h6v6h-6zM126 60h6v6h-6zM156 60h6v6h-6zM132 66h6v6h-6zM150 66h6v6h-6zM120 72h6v6h-6zM120 78h6v6h-6zM138 78h6v6h-6zM138 84h6v6h-6zM162 84h12v6h-12zM138 90h12v6h-12z"/>
<path fill="#4bebb0" d="M186 6h6v6h-6zM18 18h6v6h-6zM36 24h6v6h-6zM72 42h6v6h-6zM72 48h6v6h-6z"/>
<path fill="#0f74f7" d="M42 12h6v6h-6zM180 12h6v6h-6zM186 24h6v6h-6zM186 30h6v6h-6z"/>
<path fill="#1286fc" d="M48 12h6v6h-6zM48 18h6v6h-6zM186 18h6v6h-6zM180 24h6v6h-6z"/>
<path fill="#d23608" d="M78 12h6v6h-6zM84 18h6v6h-6zM90 24h6v6h-6z"/>
<path fill="#e14208" d="M84 12h6v6h-6zM84 24h6v6h-6zM114 24h6v6h-6zM84 30h6v6h-6zM90 36h6v6h-6z"/>
<path fill="#b4ee51" d="M132 12h6v6h-6zM144 12h6v6h-6zM132 18h6v6h-6zM138 24h6v6h-6zM162 24h6v6h-6zM162 30h6v6h-6zM132 36h6v6h-6zM144 36h6v6h-6zM132 42h6v6h-6zM84 48h6v6h-6zM138 48h12v6h-12z"/>
<path fill="#0e5fe8" d="M42 18h6v6h-6zM180 18h6v6h-6zM192 24h18v6h-18zM192 30h18v6h-18z"/>
<path fill="#c22a08" d="M78 18h6v6h-6zM90 30h6v6h-6zM114 30h6v6h-6z"/>
<path fill="#ed520c" d="M90 18h6v6h-6zM78 24h6v6h-6zM96 24h6v6h-6zM96 30h6v6h-6zM120 30h6v6h-6zM114 36h6v6h-6z"/>
</g><use href="#net"/></g><use href="#out"/></g>
<g transform="translate(336.9 496.3)"><g clip-path="url(#sec)"><g filter="url(#bl)">
<path fill="#0c4ada" d="M-6 -6h30v6h-30zM66 -6h6v6h-6zM-6 0h30v6h-30zM66 0h6v6h-6zM-6 6h30v6h-30zM66 6h6v6h-6zM6 12h18v6h-18zM66 12h6v6h-6zM12 18h12v6h-12zM66 18h6v6h-6zM66 24h6v6h-6z"/>
<path fill="#0a2bb9" d="M24 -6h12v6h-12zM24 0h12v6h-12zM24 6h12v6h-12zM24 12h12v6h-12zM24 18h12v6h-12zM24 24h12v6h-12z"/>
<path fill="#0f74f7" d="M36 -6h6v6h-6zM60 -6h6v6h-6zM36 0h6v6h-6zM60 0h6v6h-6zM36 6h6v6h-6zM60 6h6v6h-6zM36 12h6v6h-6zM60 12h6v6h-6zM36 18h6v6h-6zM60 18h6v6h-6z"/>
<path fill="#1896f5" d="M42 -6h18v6h-18zM42 0h18v6h-18zM42 6h18v6h-18zM42 12h18v6h-18zM42 18h18v6h-18zM102 18h6v6h-6zM36 24h6v6h-6zM72 24h6v6h-6zM60 30h6v6h-6zM72 30h6v6h-6z"/>
<path fill="#1fa7ed" d="M72 -6h6v6h-6zM72 0h6v6h-6zM72 6h6v6h-6zM72 12h6v6h-6zM102 12h6v6h-6zM72 18h6v6h-6zM108 18h6v6h-6zM36 30h6v6h-6zM66 36h6v6h-6z"/>
<path fill="#6af98e" d="M78 -6h6v6h-6zM114 -6h6v6h-6zM78 0h6v6h-6zM114 0h6v6h-6zM78 6h18v6h-18zM114 6h18v6h-18zM78 12h12v6h-12zM126 12h6v6h-6zM78 18h6v6h-6zM90 24h6v6h-6zM114 24h6v6h-6zM96 30h6v6h-6zM78 36h6v6h-6zM102 36h6v6h-6zM78 42h6v6h-6zM78 48h6v6h-6z"/>
<path fill="#88fd73" d="M84 -6h12v6h-12zM120 -6h18v6h-18zM84 0h12v6h-12zM120 0h18v6h-18zM132 6h6v6h-6zM132 12h6v6h-6zM126 18h6v6h-6zM120 24h6v6h-6zM90 30h6v6h-6zM114 30h6v6h-6zM84 36h6v6h-6zM108 36h6v6h-6zM102 42h6v6h-6zM78 54h6v6h-6z"/>
<path fill="#4bebb0" d="M96 -6h6v6h-6zM108 -6h6v6h-6zM96 0h6v6h-6zM108 0h6v6h-6zM96 6h6v6h-6zM120 12h6v6h-6zM84 18h6v6h-6zM120 18h6v6h-6zM84 24h6v6h-6zM96 24h6v6h-6zM84 30h6v6h-6zM108 30h6v6h-6zM72 42h6v6h-6zM72 48h6v6h-6z"/>
<path fill="#38d8d0" d="M102 -6h6v6h-6zM102 0h6v6h-6zM108 6h6v6h-6zM90 12h6v6h-6zM114 12h6v6h-6zM90 18h6v6h-6zM114 18h6v6h-6zM78 24h6v6h-6zM108 24h6v6h-6zM42 30h18v6h-18zM78 30h6v6h-6zM102 30h6v6h-6zM48 36h12v6h-12zM54 42h18v6h-18zM66 48h6v6h-6z"/>
<path fill="#b4ee51" d="M138 -6h6v6h-6zM138 0h6v6h-6zM138 6h6v6h-6zM138 12h6v6h-6zM126 24h6v6h-6zM90 36h6v6h-6zM96 42h6v6h-6zM108 42h6v6h-6z"/>
<path fill="#e5c227" d="M144 -6h6v6h-6zM144 0h6v6h-6zM144 6h6v6h-6zM138 24h24v6h-24zM144 30h6v6h-6zM120 36h6v6h-6zM150 36h12v6h-12zM102 48h6v6h-6zM96 54h6v6h-6zM96 60h6v6h-6zM150 78h6v6h-6z"/>
<path fill="#d23608" d="M150 -6h6v6h-6zM150 0h6v6h-6zM156 6h6v6h-6zM162 48h12v6h-12z"/>
<path fill="#c22a08" d="M156 -6h6v6h-6zM156 0h6v6h-6zM150 54h24v6h-24zM126 66h12v6h-12z"/>
<path fill="#ed520c" d="M162 -6h6v6h-6zM162 0h6v6h-6zM162 6h6v6h-6zM156 12h6v6h-6zM150 48h6v6h-6zM174 48h6v6h-6zM144 54h6v6h-6zM174 54h6v6h-6zM126 60h12v6h-12zM156 60h6v6h-6zM120 66h6v6h-6zM138 66h6v6h-6z"/>
<path fill="#f86210" d="M168 -6h42v6h-42zM168 0h42v6h-42zM168 6h42v6h-42zM150 12h6v6h-6zM192 12h18v6h-18zM192 18h18v6h-18zM192 24h18v6h-18zM192 30h18v6h-18zM186 36h18v6h-18zM126 42h6v6h-6zM162 42h42v6h-42zM180 48h6v6h-6zM102 54h6v6h-6zM138 54h6v6h-6zM180 54h6v6h-6zM138 60h18v6h-18zM114 66h6v6h-6zM144 66h6v6h-6zM162 66h12v6h-12zM114 72h12v6h-12zM162 72h12v6h-12zM162 78h30v6h-30zM174 84h18v6h-18zM156 90h6v6h-6zM180 90h6v6h-6zM156 96h6v6h-6zM180 96h6v6h-6z"/>
<path fill="#2dc8db" d="M102 6h6v6h-6zM96 12h6v6h-6zM96 18h6v6h-6zM42 24h18v6h-18zM102 24h6v6h-6zM72 36h6v6h-6z"/>
<path fill="#e14208" d="M150 6h6v6h-6zM156 48h6v6h-6zM162 60h12v6h-12z"/>
<path fill="#25b8e4" d="M108 12h6v6h-6zM60 36h6v6h-6z"/>
<path fill="#d6da32" d="M144 12h6v6h-6zM144 18h6v6h-6zM132 30h6v6h-6zM150 30h6v6h-6zM114 36h6v6h-6zM138 36h12v6h-12zM138 42h12v6h-12zM96 48h6v6h-6zM96 66h6v6h-6zM144 84h6v6h-6zM144 90h6v6h-6z"/>
<path fill="#fd8813" d="M162 12h24v6h-24zM162 18h6v6h-6zM126 36h6v6h-6zM120 42h6v6h-6zM156 42h6v6h-6zM126 48h24v6h-24zM192 48h12v6h-12zM132 54h6v6h-6zM186 54h6v6h-6zM102 60h6v6h-6zM180 60h6v6h-6zM108 66h6v6h-6zM150 66h6v6h-6zM174 66h6v6h-6zM108 72h6v6h-6zM150 84h12v6h-12zM162 90h6v6h-6zM162 96h6v6h-6zM162 102h6v6h-6z"/>
<path fill="#fc7310" d="M186 12h6v6h-6zM150 18h12v6h-12zM186 18h6v6h-6zM186 24h6v6h-6zM186 30h6v6h-6zM162 36h24v6h-24zM132 42h6v6h-6zM186 48h6v6h-6zM108 54h6v6h-6zM108 60h18v6h-18zM174 60h6v6h-6zM126 72h12v6h-12zM174 72h24v6h-24zM120 78h6v6h-6zM162 84h12v6h-12zM150 90h6v6h-6zM174 90h6v6h-6zM150 96h6v6h-6zM174 96h6v6h-6zM174 102h6v6h-6z"/>
<path fill="#9ff861" d="M132 18h6v6h-6zM120 30h6v6h-6zM96 36h6v6h-6zM84 42h6v6h-6zM84 48h6v6h-6zM84 54h6v6h-6z"/>
<path fill="#c6e442" d="M138 18h6v6h-6zM132 24h6v6h-6zM126 30h6v6h-6zM156 30h6v6h-6zM90 42h6v6h-6zM90 48h6v6h-6zM90 54h6v6h-6zM90 60h6v6h-6zM126 78h24v6h-24zM126 84h18v6h-18zM138 90h6v6h-6z"/>
<path fill="#f3a71d" d="M168 18h18v6h-18zM162 24h24v6h-24zM138 30h6v6h-6zM162 30h24v6h-24zM132 36h6v6h-6zM114 42h6v6h-6zM150 42h6v6h-6zM108 48h18v6h-18zM114 54h18v6h-18zM192 54h12v6h-12zM186 60h12v6h-12zM102 66h6v6h-6zM156 66h6v6h-6zM180 66h18v6h-18zM138 72h24v6h-24zM156 78h6v6h-6zM168 90h6v6h-6zM168 96h6v6h-6zM168 102h6v6h-6z"/>
<path fill="#1286fc" d="M60 24h6v6h-6z"/>
<path fill="#0e5fe8" d="M66 30h6v6h-6z"/>
</g><use href="#net"/></g><use href="#out"/></g>
<g transform="translate(572.9 496.3)"><g clip-path="url(#sec)"><g filter="url(#bl)">
<path fill="#0c4ada" d="M-6 -6h102v6h-102zM-6 0h102v6h-102zM-6 6h102v6h-102zM6 12h90v6h-90zM12 18h84v6h-84zM24 24h72v6h-72zM36 30h60v6h-60zM48 36h48v6h-48zM54 42h54v6h-54zM66 48h30v6h-30zM78 54h18v6h-18zM90 60h6v6h-6z"/>
<path fill="#0f74f7" d="M96 -6h6v6h-6zM96 0h6v6h-6zM96 6h6v6h-6zM96 12h6v6h-6zM96 18h6v6h-6zM96 24h6v6h-6zM96 30h6v6h-6zM108 36h6v6h-6zM102 48h6v6h-6zM96 54h6v6h-6zM96 60h6v6h-6z"/>
<path fill="#1896f5" d="M102 -6h18v6h-18zM102 0h18v6h-18zM102 6h18v6h-18zM102 12h18v6h-18zM102 18h18v6h-18zM102 24h18v6h-18zM102 30h18v6h-18zM114 36h6v6h-6zM114 42h6v6h-6zM108 48h6v6h-6zM102 54h6v6h-6z"/>
<path fill="#1fa7ed" d="M120 -6h6v6h-6zM120 0h6v6h-6zM120 6h6v6h-6zM120 12h6v6h-6zM120 18h6v6h-6zM120 24h6v6h-6zM120 30h6v6h-6zM120 36h6v6h-6zM120 42h6v6h-6zM108 54h6v6h-6z"/>
<path fill="#2dc8db" d="M126 -6h6v6h-6zM126 0h6v6h-6zM126 6h6v6h-6zM126 12h6v6h-6zM126 18h6v6h-6zM126 24h6v6h-6zM126 30h6v6h-6zM126 36h6v6h-6zM126 42h6v6h-6zM120 48h6v6h-6zM108 60h6v6h-6zM102 66h6v6h-6z"/>
<path fill="#38d8d0" d="M132 -6h6v6h-6zM132 0h6v6h-6zM132 6h6v6h-6zM114 54h12v6h-12z"/>
<path fill="#6af98e" d="M138 -6h6v6h-6zM138 0h6v6h-6zM132 48h6v6h-6zM126 54h6v6h-6zM120 60h6v6h-6zM114 66h6v6h-6zM114 72h6v6h-6z"/>
<path fill="#9ff861" d="M144 -6h6v6h-6zM144 0h6v6h-6zM144 6h6v6h-6zM138 12h6v6h-6zM126 60h6v6h-6zM120 72h6v6h-6zM120 78h6v6h-6z"/>
<path fill="#e5c227" d="M150 -6h6v6h-6zM150 0h6v6h-6zM150 6h6v6h-6zM150 12h6v6h-6zM150 18h6v6h-6zM150 24h6v6h-6zM150 30h6v6h-6zM150 36h6v6h-6zM150 42h6v6h-6zM150 48h6v6h-6zM144 60h6v6h-6zM132 72h6v6h-6zM126 78h6v6h-6z"/>
<path fill="#f3a71d" d="M156 -6h6v6h-6zM156 0h6v6h-6zM156 6h6v6h-6zM156 12h6v6h-6zM156 18h6v6h-6zM156 24h6v6h-6zM156 30h6v6h-6zM156 36h6v6h-6zM156 42h6v6h-6zM156 48h6v6h-6zM150 54h12v6h-12zM138 66h6v6h-6zM126 84h6v6h-6z"/>
<path fill="#f86210" d="M162 -6h24v6h-24zM162 0h24v6h-24zM162 6h12v6h-12zM162 12h6v6h-6zM162 18h6v6h-6zM162 24h6v6h-6zM162 30h6v6h-6zM162 36h6v6h-6zM162 42h6v6h-6zM192 42h12v6h-12zM162 48h6v6h-6zM162 54h6v6h-6zM150 66h6v6h-6zM150 72h6v6h-6zM138 78h18v6h-18zM138 84h18v6h-18zM138 90h18v6h-18zM150 96h6v6h-6z"/>
<path fill="#d23608" d="M186 -6h6v6h-6zM186 0h6v6h-6zM186 6h6v6h-6zM174 12h12v6h-12zM174 18h6v6h-6zM174 24h6v6h-6zM192 24h18v6h-18zM174 30h6v6h-6zM174 36h6v6h-6zM186 36h6v6h-6zM174 42h6v6h-6zM174 48h6v6h-6zM186 48h18v6h-18zM174 54h6v6h-6zM168 60h6v6h-6z"/>
<path fill="#c22a08" d="M192 -6h18v6h-18zM192 0h18v6h-18zM192 6h18v6h-18zM180 18h6v6h-6zM180 24h12v6h-12zM180 30h30v6h-30zM180 36h6v6h-6zM180 42h6v6h-6zM180 48h6v6h-6zM180 54h24v6h-24zM174 60h24v6h-24zM162 66h36v6h-36zM162 72h36v6h-36zM162 78h30v6h-30zM162 84h30v6h-30zM162 90h24v6h-24zM162 96h24v6h-24zM162 102h18v6h-18z"/>
<path fill="#88fd73" d="M138 6h6v6h-6zM132 54h6v6h-6zM120 66h6v6h-6z"/>
<path fill="#ed520c" d="M174 6h12v6h-12zM168 12h6v6h-6zM192 12h18v6h-18zM168 18h6v6h-6zM192 18h18v6h-18zM168 24h6v6h-6zM168 30h6v6h-6zM168 36h6v6h-6zM168 42h6v6h-6zM168 48h6v6h-6zM168 54h6v6h-6zM156 66h6v6h-6zM156 72h6v6h-6zM156 78h6v6h-6zM156 84h6v6h-6zM156 90h6v6h-6zM156 96h6v6h-6z"/>
<path fill="#4bebb0" d="M132 12h6v6h-6zM132 18h6v6h-6zM132 24h6v6h-6zM132 30h6v6h-6zM132 36h6v6h-6zM132 42h6v6h-6zM126 48h6v6h-6zM114 60h6v6h-6zM108 66h6v6h-6zM108 72h6v6h-6z"/>
<path fill="#c6e442" d="M144 12h6v6h-6zM144 18h6v6h-6zM144 24h6v6h-6zM144 30h6v6h-6zM144 36h6v6h-6zM144 42h6v6h-6zM144 48h6v6h-6zM138 54h12v6h-12zM126 66h6v6h-6z"/>
<path fill="#e14208" d="M186 12h6v6h-6zM186 18h6v6h-6zM192 36h12v6h-12zM186 42h6v6h-6zM162 60h6v6h-6z"/>
<path fill="#b4ee51" d="M138 18h6v6h-6zM138 24h6v6h-6zM138 30h6v6h-6zM138 36h6v6h-6zM138 42h6v6h-6zM138 48h6v6h-6zM132 60h6v6h-6z"/>
<path fill="#0e5fe8" d="M96 36h12v6h-12zM108 42h6v6h-6zM96 48h6v6h-6z"/>
<path fill="#25b8e4" d="M114 48h6v6h-6zM102 60h6v6h-6z"/>
<path fill="#d6da32" d="M138 60h6v6h-6zM132 66h6v6h-6zM126 72h6v6h-6z"/>
<path fill="#fd8813" d="M150 60h6v6h-6zM144 66h6v6h-6zM138 72h6v6h-6zM132 78h6v6h-6zM132 84h6v6h-6z"/>
<path fill="#fc7310" d="M156 60h6v6h-6zM144 72h6v6h-6z"/>
<path fill="#1286fc" d="M96 66h6v6h-6z"/>
</g><use href="#net"/></g><use href="#out"/></g>
<g transform="translate(808.9 496.3)"><g clip-path="url(#sec)"><g filter="url(#bl)">
<path fill="#0c4ada" d="M-6 -6h90v6h-90zM-6 0h90v6h-90zM-6 6h72v6h-72zM72 6h12v6h-12zM6 12h54v6h-54zM78 12h12v6h-12zM12 18h48v6h-48zM78 18h18v6h-18zM24 24h36v6h-36zM78 24h6v6h-6zM36 30h48v6h-48zM48 36h36v6h-36zM54 42h42v6h-42zM66 48h30v6h-30zM78 54h18v6h-18zM90 60h6v6h-6z"/>
<path fill="#0f74f7" d="M84 -6h6v6h-6zM84 0h6v6h-6zM84 6h6v6h-6zM60 12h6v6h-6zM72 12h6v6h-6zM96 12h6v6h-6zM60 18h6v6h-6zM72 18h6v6h-6zM96 18h6v6h-6zM84 30h6v6h-6zM96 42h6v6h-6zM96 48h6v6h-6zM96 54h6v6h-6z"/>
<path fill="#1896f5" d="M90 -6h18v6h-18zM90 0h18v6h-18zM96 6h12v6h-12zM102 12h6v6h-6zM66 18h6v6h-6zM102 18h6v6h-6zM96 24h6v6h-6zM90 30h6v6h-6zM102 42h6v6h-6zM102 48h6v6h-6zM102 54h6v6h-6zM96 66h6v6h-6z"/>
<path fill="#1fa7ed" d="M108 -6h6v6h-6zM108 0h6v6h-6zM108 6h6v6h-6zM108 12h6v6h-6zM108 18h6v6h-6zM96 30h6v6h-6zM102 36h6v6h-6zM108 42h6v6h-6zM108 48h6v6h-6zM108 54h6v6h-6z"/>
<path fill="#38d8d0" d="M114 -6h18v6h-18zM114 0h18v6h-18zM114 6h18v6h-18zM114 12h12v6h-12zM114 18h12v6h-12zM114 24h12v6h-12zM108 30h18v6h-18zM114 36h12v6h-12zM114 42h12v6h-12zM114 48h6v6h-6zM114 54h6v6h-6z"/>
<path fill="#4bebb0" d="M132 -6h6v6h-6zM132 0h6v6h-6zM132 6h6v6h-6zM120 48h6v6h-6zM120 54h6v6h-6zM108 60h6v6h-6z"/>
<path fill="#b4ee51" d="M138 -6h6v6h-6zM138 0h6v6h-6zM138 6h6v6h-6zM138 12h6v6h-6zM138 18h6v6h-6zM138 24h6v6h-6zM138 30h6v6h-6zM138 36h6v6h-6zM132 48h6v6h-6zM126 54h6v6h-6z"/>
<path fill="#c6e442" d="M144 -6h6v6h-6zM144 0h6v6h-6zM144 6h6v6h-6zM144 12h12v6h-12zM144 18h12v6h-12zM144 24h6v6h-6zM144 30h6v6h-6zM144 36h6v6h-6zM138 42h6v6h-6zM114 66h6v6h-6zM114 72h6v6h-6z"/>
<path fill="#e5c227" d="M150 -6h6v6h-6zM150 0h6v6h-6zM150 6h6v6h-6zM150 24h6v6h-6zM150 30h6v6h-6zM150 36h6v6h-6zM144 48h6v6h-6zM132 60h6v6h-6z"/>
<path fill="#f3a71d" d="M156 -6h6v6h-6zM156 0h6v6h-6zM156 6h6v6h-6zM156 24h6v6h-6zM156 30h6v6h-6zM156 36h6v6h-6zM150 42h12v6h-12zM150 48h12v6h-12zM138 54h24v6h-24zM138 60h12v6h-12zM126 66h18v6h-18zM126 72h12v6h-12zM126 78h6v6h-6zM126 84h6v6h-6z"/>
<path fill="#f86210" d="M162 -6h24v6h-24zM162 0h24v6h-24zM168 6h6v6h-6zM162 30h6v6h-6zM162 36h6v6h-6zM162 42h6v6h-6zM162 48h6v6h-6zM162 54h6v6h-6zM192 54h12v6h-12zM192 60h6v6h-6zM150 66h6v6h-6zM180 66h18v6h-18zM150 72h6v6h-6zM180 72h18v6h-18zM138 78h18v6h-18zM180 78h12v6h-12zM138 84h18v6h-18zM180 84h12v6h-12zM138 90h18v6h-18zM180 90h6v6h-6zM150 96h6v6h-6zM180 96h6v6h-6z"/>
<path fill="#d23608" d="M186 -6h6v6h-6zM186 0h6v6h-6zM186 6h6v6h-6zM174 12h6v6h-6zM174 18h6v6h-6zM174 24h6v6h-6zM174 30h6v6h-6zM174 36h6v6h-6zM174 42h6v6h-6zM174 48h6v6h-6zM186 48h6v6h-6zM174 54h6v6h-6zM168 60h6v6h-6z"/>
<path fill="#c22a08" d="M192 -6h18v6h-18zM192 0h18v6h-18zM192 6h18v6h-18zM180 12h30v6h-30zM180 18h30v6h-30zM180 24h30v6h-30zM180 30h30v6h-30zM180 36h24v6h-24zM180 42h24v6h-24zM180 48h6v6h-6zM180 54h6v6h-6zM162 66h12v6h-12zM162 72h12v6h-12zM162 78h12v6h-12zM162 84h12v6h-12zM162 90h12v6h-12zM162 96h12v6h-12zM162 102h12v6h-12z"/>
<path fill="#0e5fe8" d="M66 6h6v6h-6zM90 12h6v6h-6zM60 24h18v6h-18zM84 24h6v6h-6zM84 36h12v6h-12z"/>
<path fill="#1286fc" d="M90 6h6v6h-6zM66 12h6v6h-6zM90 24h6v6h-6zM96 36h6v6h-6zM96 60h6v6h-6z"/>
<path fill="#fc7310" d="M162 6h6v6h-6zM162 12h6v6h-6zM162 18h6v6h-6zM162 24h6v6h-6zM150 60h12v6h-12zM144 72h6v6h-6z"/>
<path fill="#ed520c" d="M174 6h12v6h-12zM168 12h6v6h-6zM168 18h6v6h-6zM168 24h6v6h-6zM168 30h6v6h-6zM168 36h6v6h-6zM168 42h6v6h-6zM168 48h6v6h-6zM168 54h6v6h-6zM186 60h6v6h-6zM156 66h6v6h-6zM174 66h6v6h-6zM156 72h6v6h-6zM174 72h6v6h-6zM156 78h6v6h-6zM174 78h6v6h-6zM156 84h6v6h-6zM174 84h6v6h-6zM156 90h6v6h-6zM174 90h6v6h-6zM156 96h6v6h-6zM174 96h6v6h-6zM174 102h6v6h-6z"/>
<path fill="#6af98e" d="M126 12h6v6h-6zM126 18h6v6h-6zM126 24h6v6h-6zM126 30h6v6h-6zM126 36h6v6h-6zM126 42h6v6h-6zM102 66h6v6h-6z"/>
<path fill="#88fd73" d="M132 12h6v6h-6zM132 18h6v6h-6zM132 24h6v6h-6zM132 30h6v6h-6zM132 36h6v6h-6zM132 42h6v6h-6zM114 60h6v6h-6z"/>
<path fill="#d6da32" d="M156 12h6v6h-6zM156 18h6v6h-6zM144 42h6v6h-6zM138 48h6v6h-6zM132 54h6v6h-6zM126 60h6v6h-6zM120 66h6v6h-6zM120 72h6v6h-6zM120 78h6v6h-6z"/>
<path fill="#2dc8db" d="M102 24h12v6h-12zM102 30h6v6h-6zM102 60h6v6h-6z"/>
<path fill="#25b8e4" d="M108 36h6v6h-6z"/>
<path fill="#9ff861" d="M126 48h6v6h-6zM120 60h6v6h-6zM108 66h6v6h-6zM108 72h6v6h-6z"/>
<path fill="#e14208" d="M192 48h12v6h-12zM186 54h6v6h-6zM162 60h6v6h-6zM174 60h12v6h-12z"/>
<path fill="#fd8813" d="M144 66h6v6h-6zM138 72h6v6h-6zM132 78h6v6h-6zM132 84h6v6h-6z"/>
</g><use href="#net"/></g><use href="#out"/></g>
<ellipse cx="842.9" cy="240.3" rx="42.6" ry="18.7" fill="none" stroke="#000" stroke-width="2.6" stroke-dasharray="9.5 5.2"/>
<text x="98.1" y="207.9" font-size="37.3"><tspan fill="#0000ff">0.66</tspan><tspan fill="#000">/</tspan><tspan fill="#ff0000">1.26</tspan></text>
<text x="334.9" y="207.9" font-size="37.3"><tspan fill="#0000ff">0.49</tspan><tspan fill="#000">/</tspan><tspan fill="#ff0000">1.33</tspan></text>
<text x="570.2" y="207.9" font-size="37.3"><tspan fill="#0000ff">0.67</tspan><tspan fill="#000">/</tspan><tspan fill="#ff0000">1.51</tspan></text>
<text x="806.8" y="207.9" font-size="37.3"><tspan fill="#0000ff">0.76</tspan><tspan fill="#000">/</tspan><tspan fill="#ff0000">1.37</tspan></text>
<text x="98.1" y="338.1" font-size="37.3"><tspan fill="#0000ff">0.26</tspan><tspan fill="#000">/</tspan><tspan fill="#ff0000">1.71</tspan></text>
<text x="335.1" y="338.1" font-size="37.3"><tspan fill="#0000ff">0.25</tspan><tspan fill="#000">/</tspan><tspan fill="#ff0000">1.99</tspan></text>
<text x="570.2" y="338.1" font-size="37.3"><tspan fill="#0000ff">0.68</tspan><tspan fill="#000">/</tspan><tspan fill="#ff0000">1.59</tspan></text>
<text x="806.8" y="338.1" font-size="37.3"><tspan fill="#0000ff">0.75</tspan><tspan fill="#000">/</tspan><tspan fill="#ff0000">1.36</tspan></text>
<text x="97.2" y="470.4" font-size="37.3"><tspan fill="#0000ff">0.66</tspan><tspan fill="#000">/</tspan><tspan fill="#ff0000">1.52</tspan></text>
<text x="334.2" y="470.4" font-size="37.3"><tspan fill="#0000ff">0.53</tspan><tspan fill="#000">/</tspan><tspan fill="#ff0000">1.37</tspan></text>
<text x="569.2" y="470.4" font-size="37.3"><tspan fill="#0000ff">0.64</tspan><tspan fill="#000">/</tspan><tspan fill="#ff0000">1.54</tspan></text>
<text x="805.7" y="470.4" font-size="37.3"><tspan fill="#0000ff">0.70</tspan><tspan fill="#000">/</tspan><tspan fill="#ff0000">1.42</tspan></text>
<text x="98.1" y="601.4" font-size="37.3"><tspan fill="#0000ff">0.65</tspan><tspan fill="#000">/</tspan><tspan fill="#ff0000">1.32</tspan></text>
<text x="335.0" y="601.4" font-size="37.3"><tspan fill="#0000ff">0.54</tspan><tspan fill="#000">/</tspan><tspan fill="#ff0000">1.40</tspan></text>
<text x="570.1" y="601.4" font-size="37.3"><tspan fill="#0000ff">0.53</tspan><tspan fill="#000">/</tspan><tspan fill="#ff0000">1.52</tspan></text>
<text x="806.5" y="601.4" font-size="37.3"><tspan fill="#0000ff">0.58</tspan><tspan fill="#000">/</tspan><tspan fill="#ff0000">1.45</tspan></text>
<text x="146.2" y="58.7" font-size="45.4">ε=0%</text>
<text x="364.9" y="58.7" font-size="45.4">ε=2.5%</text>
<text x="601.4" y="58.7" font-size="45.4">ε=6.5%</text>
<text x="825.7" y="58.7" font-size="45.4">ε=10.3%</text>
<text transform="translate(47.4 196.1) rotate(-90)" font-size="42">Total</text>
<text transform="translate(47.4 321.5) rotate(-90)" font-size="41">0-30°</text>
<text transform="translate(47.4 471.0) rotate(-90)" font-size="41">30-60°</text>
<text transform="translate(47.4 601.2) rotate(-90)" font-size="41">60-90°</text>
<g stroke="#000" fill="none">
<rect x="3" y="3" width="1014" height="756.5" stroke-width="2.2"/>
<line x1="68.9" y1="2" x2="68.9" y2="613" stroke-width="2.2"/>
<line x1="2" y1="84.3" x2="1018" y2="84.3" stroke-width="2.8"/>
<line x1="2" y1="216.3" x2="1018" y2="216.3" stroke-width="2.8"/>
<line x1="2" y1="348.3" x2="1018" y2="348.3" stroke-width="2.8"/>
<line x1="2" y1="482.4" x2="1018" y2="482.4" stroke-width="2.8"/>
<line x1="2" y1="612.4" x2="1018" y2="612.4" stroke-width="2.8"/>
</g>
<path d="M196.3 654.8L323.2 654.8A127 127 0 0 1 306.4 716.9Z" fill="none" stroke="#000" stroke-width="3" stroke-linejoin="round"/>
<text x="171" y="647.4" font-size="31.5">0001</text>
<text x="292.3" y="647.4" font-size="31.5">1210</text>
<rect x="293.3" y="619" width="14.2" height="2.2" fill="#000"/><rect x="324.3" y="619" width="14.5" height="2.2" fill="#000"/>
<text x="265.6" y="750.1" font-size="31.5" textLength="65.5" lengthAdjust="spacing">0110</text>
<rect x="299" y="723" width="14.4" height="2.2" fill="#000"/>
<text x="329.5" y="694.4" font-size="36">(1.2°-2°)</text>
<text x="133.9" y="717.8" font-size="31.8"><tspan fill="#0000ff">Min</tspan><tspan fill="#000">/</tspan><tspan fill="#ff0000">Max</tspan></text>
<text x="555" y="671.3" font-size="32.4">IGMA Intensity (mud)</text>
<defs><linearGradient id="cb" x1="0" x2="1" y1="0" y2="0">
<stop offset="0" stop-color="#0b1478"/>
<stop offset="0.12" stop-color="#0a30c8"/>
<stop offset="0.245" stop-color="#1080ff"/>
<stop offset="0.31" stop-color="#1ca0f0"/>
<stop offset="0.37" stop-color="#28c0e0"/>
<stop offset="0.42" stop-color="#38d8d0"/>
<stop offset="0.46" stop-color="#50f0a8"/>
<stop offset="0.5" stop-color="#7cff7c"/>
<stop offset="0.55" stop-color="#a0f860"/>
<stop offset="0.6" stop-color="#c0e848"/>
<stop offset="0.65" stop-color="#d8d830"/>
<stop offset="0.7" stop-color="#f0b020"/>
<stop offset="0.75" stop-color="#ff8010"/>
<stop offset="0.81" stop-color="#f86010"/>
<stop offset="0.875" stop-color="#e04008"/>
<stop offset="0.94" stop-color="#c02808"/>
<stop offset="1" stop-color="#700a04"/>
</linearGradient></defs>
<rect x="513.4" y="691.1" width="396" height="15.2" fill="url(#cb)"/>
<text x="508.9" y="739.2" font-size="31.8" fill="#0000ff">Min</text>
<text x="849" y="737.8" font-size="31.8" fill="#ff0000">Max</text>
</svg></body></html>
